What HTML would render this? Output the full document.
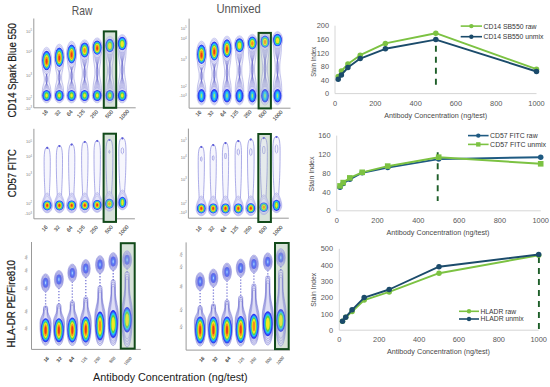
<!DOCTYPE html>
<html><head><meta charset="utf-8"><style>
html,body{margin:0;padding:0;background:#fff;}
body{width:550px;height:387px;overflow:hidden;font-family:"Liberation Sans", sans-serif;}
svg{position:absolute;left:0;top:0;}
</style></head><body>
<svg width="550" height="387" viewBox="0 0 550 387">

<defs>
<filter id="bl" x="-30%" y="-30%" width="160%" height="160%"><feGaussianBlur stdDeviation="0.45"/></filter>
<filter id="bl2" x="-30%" y="-30%" width="160%" height="160%"><feGaussianBlur stdDeviation="0.3"/></filter>
</defs>

<text x="71.8" y="14.7" font-size="12.2" fill="#555" textLength="20.7" lengthAdjust="spacingAndGlyphs" font-family='"Liberation Sans", sans-serif'>Raw</text><text x="216.5" y="13.1" font-size="12.2" fill="#555" textLength="44.3" lengthAdjust="spacingAndGlyphs" font-family='"Liberation Sans", sans-serif'>Unmixed</text><text x="16.4" y="117.6" font-size="10.6" fill="#1a1a1a" stroke="#1a1a1a" stroke-width="0.22" textLength="94.5" lengthAdjust="spacingAndGlyphs" transform="rotate(-90 16.4 117.6)" font-family='"Liberation Sans", sans-serif'>CD14 Spark Blue 550</text><text x="16.4" y="197.2" font-size="10.6" fill="#1a1a1a" stroke="#1a1a1a" stroke-width="0.22" textLength="48" lengthAdjust="spacingAndGlyphs" transform="rotate(-90 16.4 197.2)" font-family='"Liberation Sans", sans-serif'>CD57 FITC</text><text x="15.0" y="347.5" font-size="10.6" fill="#1a1a1a" stroke="#1a1a1a" stroke-width="0.22" textLength="87.5" lengthAdjust="spacingAndGlyphs" transform="rotate(-90 15.0 347.5)" font-family='"Liberation Sans", sans-serif'>HLA-DR PE/Fire810</text><text x="93.1" y="381.4" font-size="10.5" fill="#1a1a1a" textLength="154.6" lengthAdjust="spacingAndGlyphs" font-family='"Liberation Sans", sans-serif'>Antibody Concentration (ng/test)</text><path d="M33.8,18.5 L33.8,107.8 L135.7,107.8" fill="none" stroke="#999999" stroke-width="1.0"/><rect x="103.7" y="31.3" width="12.6" height="76.6" fill="#e0e9e2"/><g filter="url(#bl)"><path d="M42.6,65.9 C42.6,73.9 44.3,73.9 44.3,79.2 C44.3,84.5 42.3,84.5 42.3,92.5 L50.9,92.5 C50.9,84.5 48.9,84.5 48.9,79.2 C48.9,73.9 50.6,73.9 50.6,65.9 Z" fill="#eeeefa"/><path d="M42.6,65.9 C42.6,73.9 44.3,73.9 44.3,79.2 C44.3,84.5 42.3,84.5 42.3,92.5" fill="none" stroke="#5c5cca" stroke-width="0.45" opacity="0.75"/><path d="M50.6,65.9 C50.6,73.9 48.9,73.9 48.9,79.2 C48.9,84.5 50.9,84.5 50.9,92.5" fill="none" stroke="#5c5cca" stroke-width="0.45" opacity="0.75"/><path d="M43.8,65.9 C43.8,73.9 47.6,73.9 47.6,79.2 C47.6,84.5 43.6,84.5 43.6,92.5" fill="none" stroke="#5c5cca" stroke-width="0.45" opacity="0.75"/><path d="M49.4,65.9 C49.4,73.9 45.6,73.9 45.6,79.2 C45.6,84.5 49.6,84.5 49.6,92.5" fill="none" stroke="#5c5cca" stroke-width="0.45" opacity="0.75"/><path d="M44.9,65.9 C44.9,73.9 47.2,73.9 47.2,79.2 C47.2,84.5 44.8,84.5 44.8,92.5" fill="none" stroke="#5c5cca" stroke-width="0.45" opacity="0.75"/><path d="M48.3,65.9 C48.3,73.9 46.0,73.9 46.0,79.2 C46.0,84.5 48.4,84.5 48.4,92.5" fill="none" stroke="#5c5cca" stroke-width="0.45" opacity="0.75"/><path d="M46.0,65.9 C46.0,73.9 46.8,73.9 46.8,79.2 C46.8,84.5 46.0,84.5 46.0,92.5" fill="none" stroke="#5c5cca" stroke-width="0.45" opacity="0.75"/><path d="M47.2,65.9 C47.2,73.9 46.4,73.9 46.4,79.2 C46.4,84.5 47.2,84.5 47.2,92.5" fill="none" stroke="#5c5cca" stroke-width="0.45" opacity="0.75"/><ellipse cx="46.60" cy="60.50" rx="5.11" ry="13.33" fill="#e6e6f8"/><ellipse cx="46.60" cy="60.50" rx="4.76" ry="11.56" fill="none" stroke="#6e6ed8" stroke-width="0.4" opacity="0.6"/><ellipse cx="46.60" cy="60.50" rx="5.11" ry="13.33" fill="none" stroke="#6e6ed8" stroke-width="0.4" opacity="0.6"/><ellipse cx="46.60" cy="60.50" rx="4.40" ry="9.80" fill="#2c36f2"/><ellipse cx="46.60" cy="60.62" rx="3.83" ry="8.82" fill="#2a7af8"/><ellipse cx="46.60" cy="60.74" rx="3.21" ry="7.84" fill="#22cdf0"/><ellipse cx="46.60" cy="60.85" rx="2.68" ry="6.86" fill="#5ad04a"/><ellipse cx="46.60" cy="60.97" rx="2.16" ry="5.88" fill="#f0ea22"/><ellipse cx="46.60" cy="61.15" rx="1.58" ry="4.41" fill="#f8901a"/><ellipse cx="46.60" cy="61.37" rx="0.88" ry="2.55" fill="#ee3a18"/><ellipse cx="46.60" cy="95.50" rx="5.00" ry="7.48" fill="#e6e6f8"/><ellipse cx="46.60" cy="95.50" rx="4.65" ry="6.49" fill="none" stroke="#6e6ed8" stroke-width="0.4" opacity="0.6"/><ellipse cx="46.60" cy="95.50" rx="5.00" ry="7.48" fill="none" stroke="#6e6ed8" stroke-width="0.4" opacity="0.6"/><ellipse cx="46.60" cy="95.50" rx="4.30" ry="5.50" fill="#2c36f2"/><ellipse cx="46.60" cy="95.50" rx="3.44" ry="4.67" fill="#2a7af8"/><ellipse cx="46.60" cy="95.50" rx="2.58" ry="3.96" fill="#22cdf0"/><ellipse cx="46.60" cy="95.50" rx="2.02" ry="3.19" fill="#5ad04a"/><ellipse cx="46.60" cy="95.50" rx="1.25" ry="2.09" fill="#f0ea22"/><path d="M55.3,62.5 C55.3,71.5 57.0,71.5 57.0,77.5 C57.0,83.5 55.0,83.5 55.0,92.5 L63.6,92.5 C63.6,83.5 61.6,83.5 61.6,77.5 C61.6,71.5 63.3,71.5 63.3,62.5 Z" fill="#eeeefa"/><path d="M55.3,62.5 C55.3,71.5 57.0,71.5 57.0,77.5 C57.0,83.5 55.0,83.5 55.0,92.5" fill="none" stroke="#5c5cca" stroke-width="0.45" opacity="0.75"/><path d="M63.3,62.5 C63.3,71.5 61.6,71.5 61.6,77.5 C61.6,83.5 63.6,83.5 63.6,92.5" fill="none" stroke="#5c5cca" stroke-width="0.45" opacity="0.75"/><path d="M56.5,62.5 C56.5,71.5 60.3,71.5 60.3,77.5 C60.3,83.5 56.3,83.5 56.3,92.5" fill="none" stroke="#5c5cca" stroke-width="0.45" opacity="0.75"/><path d="M62.1,62.5 C62.1,71.5 58.3,71.5 58.3,77.5 C58.3,83.5 62.3,83.5 62.3,92.5" fill="none" stroke="#5c5cca" stroke-width="0.45" opacity="0.75"/><path d="M57.6,62.5 C57.6,71.5 59.9,71.5 59.9,77.5 C59.9,83.5 57.5,83.5 57.5,92.5" fill="none" stroke="#5c5cca" stroke-width="0.45" opacity="0.75"/><path d="M61.0,62.5 C61.0,71.5 58.7,71.5 58.7,77.5 C58.7,83.5 61.1,83.5 61.1,92.5" fill="none" stroke="#5c5cca" stroke-width="0.45" opacity="0.75"/><path d="M58.7,62.5 C58.7,71.5 59.5,71.5 59.5,77.5 C59.5,83.5 58.7,83.5 58.7,92.5" fill="none" stroke="#5c5cca" stroke-width="0.45" opacity="0.75"/><path d="M59.9,62.5 C59.9,71.5 59.1,71.5 59.1,77.5 C59.1,83.5 59.9,83.5 59.9,92.5" fill="none" stroke="#5c5cca" stroke-width="0.45" opacity="0.75"/><ellipse cx="59.30" cy="57.20" rx="5.11" ry="13.19" fill="#e6e6f8"/><ellipse cx="59.30" cy="57.20" rx="4.76" ry="11.45" fill="none" stroke="#6e6ed8" stroke-width="0.4" opacity="0.6"/><ellipse cx="59.30" cy="57.20" rx="5.11" ry="13.19" fill="none" stroke="#6e6ed8" stroke-width="0.4" opacity="0.6"/><ellipse cx="59.30" cy="57.20" rx="4.40" ry="9.70" fill="#2c36f2"/><ellipse cx="59.30" cy="57.32" rx="3.83" ry="8.73" fill="#2a7af8"/><ellipse cx="59.30" cy="57.43" rx="3.21" ry="7.76" fill="#22cdf0"/><ellipse cx="59.30" cy="57.55" rx="2.68" ry="6.79" fill="#5ad04a"/><ellipse cx="59.30" cy="57.67" rx="2.16" ry="5.82" fill="#f0ea22"/><ellipse cx="59.30" cy="57.84" rx="1.58" ry="4.37" fill="#f8901a"/><ellipse cx="59.30" cy="58.06" rx="0.88" ry="2.52" fill="#ee3a18"/><ellipse cx="59.30" cy="95.50" rx="5.00" ry="7.48" fill="#e6e6f8"/><ellipse cx="59.30" cy="95.50" rx="4.65" ry="6.49" fill="none" stroke="#6e6ed8" stroke-width="0.4" opacity="0.6"/><ellipse cx="59.30" cy="95.50" rx="5.00" ry="7.48" fill="none" stroke="#6e6ed8" stroke-width="0.4" opacity="0.6"/><ellipse cx="59.30" cy="95.50" rx="4.30" ry="5.50" fill="#2c36f2"/><ellipse cx="59.30" cy="95.50" rx="3.44" ry="4.67" fill="#2a7af8"/><ellipse cx="59.30" cy="95.50" rx="2.58" ry="3.96" fill="#22cdf0"/><ellipse cx="59.30" cy="95.50" rx="2.02" ry="3.19" fill="#5ad04a"/><ellipse cx="59.30" cy="95.50" rx="1.25" ry="2.09" fill="#f0ea22"/><path d="M67.6,59.2 C67.6,69.2 69.3,69.2 69.3,75.8 C69.3,82.5 67.3,82.5 67.3,92.5 L75.9,92.5 C75.9,82.5 73.9,82.5 73.9,75.8 C73.9,69.2 75.6,69.2 75.6,59.2 Z" fill="#eeeefa"/><path d="M67.6,59.2 C67.6,69.2 69.3,69.2 69.3,75.8 C69.3,82.5 67.3,82.5 67.3,92.5" fill="none" stroke="#5c5cca" stroke-width="0.45" opacity="0.75"/><path d="M75.6,59.2 C75.6,69.2 73.9,69.2 73.9,75.8 C73.9,82.5 75.9,82.5 75.9,92.5" fill="none" stroke="#5c5cca" stroke-width="0.45" opacity="0.75"/><path d="M68.8,59.2 C68.8,69.2 72.6,69.2 72.6,75.8 C72.6,82.5 68.6,82.5 68.6,92.5" fill="none" stroke="#5c5cca" stroke-width="0.45" opacity="0.75"/><path d="M74.4,59.2 C74.4,69.2 70.6,69.2 70.6,75.8 C70.6,82.5 74.6,82.5 74.6,92.5" fill="none" stroke="#5c5cca" stroke-width="0.45" opacity="0.75"/><path d="M69.9,59.2 C69.9,69.2 72.2,69.2 72.2,75.8 C72.2,82.5 69.8,82.5 69.8,92.5" fill="none" stroke="#5c5cca" stroke-width="0.45" opacity="0.75"/><path d="M73.3,59.2 C73.3,69.2 71.0,69.2 71.0,75.8 C71.0,82.5 73.4,82.5 73.4,92.5" fill="none" stroke="#5c5cca" stroke-width="0.45" opacity="0.75"/><path d="M71.0,59.2 C71.0,69.2 71.8,69.2 71.8,75.8 C71.8,82.5 71.0,82.5 71.0,92.5" fill="none" stroke="#5c5cca" stroke-width="0.45" opacity="0.75"/><path d="M72.2,59.2 C72.2,69.2 71.4,69.2 71.4,75.8 C71.4,82.5 72.2,82.5 72.2,92.5" fill="none" stroke="#5c5cca" stroke-width="0.45" opacity="0.75"/><ellipse cx="71.60" cy="54.00" rx="5.11" ry="12.92" fill="#e6e6f8"/><ellipse cx="71.60" cy="54.00" rx="4.76" ry="11.21" fill="none" stroke="#6e6ed8" stroke-width="0.4" opacity="0.6"/><ellipse cx="71.60" cy="54.00" rx="5.11" ry="12.92" fill="none" stroke="#6e6ed8" stroke-width="0.4" opacity="0.6"/><ellipse cx="71.60" cy="54.00" rx="4.40" ry="9.50" fill="#2c36f2"/><ellipse cx="71.60" cy="54.11" rx="3.83" ry="8.55" fill="#2a7af8"/><ellipse cx="71.60" cy="54.23" rx="3.21" ry="7.60" fill="#22cdf0"/><ellipse cx="71.60" cy="54.34" rx="2.68" ry="6.65" fill="#5ad04a"/><ellipse cx="71.60" cy="54.46" rx="2.16" ry="5.70" fill="#f0ea22"/><ellipse cx="71.60" cy="54.63" rx="1.58" ry="4.28" fill="#f8901a"/><ellipse cx="71.60" cy="54.84" rx="0.88" ry="2.47" fill="#ee3a18"/><ellipse cx="71.60" cy="95.50" rx="5.00" ry="7.48" fill="#e6e6f8"/><ellipse cx="71.60" cy="95.50" rx="4.65" ry="6.49" fill="none" stroke="#6e6ed8" stroke-width="0.4" opacity="0.6"/><ellipse cx="71.60" cy="95.50" rx="5.00" ry="7.48" fill="none" stroke="#6e6ed8" stroke-width="0.4" opacity="0.6"/><ellipse cx="71.60" cy="95.50" rx="4.30" ry="5.50" fill="#2c36f2"/><ellipse cx="71.60" cy="95.50" rx="3.44" ry="4.67" fill="#2a7af8"/><ellipse cx="71.60" cy="95.50" rx="2.58" ry="3.96" fill="#22cdf0"/><ellipse cx="71.60" cy="95.50" rx="2.02" ry="3.19" fill="#5ad04a"/><ellipse cx="71.60" cy="95.50" rx="1.25" ry="2.09" fill="#f0ea22"/><path d="M80.6,54.0 C80.6,65.6 82.3,65.6 82.3,73.2 C82.3,80.9 80.3,80.9 80.3,92.5 L88.9,92.5 C88.9,80.9 86.9,80.9 86.9,73.2 C86.9,65.6 88.6,65.6 88.6,54.0 Z" fill="#eeeefa"/><path d="M80.6,54.0 C80.6,65.6 82.3,65.6 82.3,73.2 C82.3,80.9 80.3,80.9 80.3,92.5" fill="none" stroke="#5c5cca" stroke-width="0.45" opacity="0.75"/><path d="M88.6,54.0 C88.6,65.6 86.9,65.6 86.9,73.2 C86.9,80.9 88.9,80.9 88.9,92.5" fill="none" stroke="#5c5cca" stroke-width="0.45" opacity="0.75"/><path d="M81.8,54.0 C81.8,65.6 85.6,65.6 85.6,73.2 C85.6,80.9 81.6,80.9 81.6,92.5" fill="none" stroke="#5c5cca" stroke-width="0.45" opacity="0.75"/><path d="M87.4,54.0 C87.4,65.6 83.6,65.6 83.6,73.2 C83.6,80.9 87.6,80.9 87.6,92.5" fill="none" stroke="#5c5cca" stroke-width="0.45" opacity="0.75"/><path d="M82.9,54.0 C82.9,65.6 85.2,65.6 85.2,73.2 C85.2,80.9 82.8,80.9 82.8,92.5" fill="none" stroke="#5c5cca" stroke-width="0.45" opacity="0.75"/><path d="M86.3,54.0 C86.3,65.6 84.0,65.6 84.0,73.2 C84.0,80.9 86.4,80.9 86.4,92.5" fill="none" stroke="#5c5cca" stroke-width="0.45" opacity="0.75"/><path d="M84.0,54.0 C84.0,65.6 84.8,65.6 84.8,73.2 C84.8,80.9 84.0,80.9 84.0,92.5" fill="none" stroke="#5c5cca" stroke-width="0.45" opacity="0.75"/><path d="M85.2,54.0 C85.2,65.6 84.4,65.6 84.4,73.2 C84.4,80.9 85.2,80.9 85.2,92.5" fill="none" stroke="#5c5cca" stroke-width="0.45" opacity="0.75"/><ellipse cx="84.60" cy="49.90" rx="5.11" ry="10.20" fill="#e6e6f8"/><ellipse cx="84.60" cy="49.90" rx="4.76" ry="8.85" fill="none" stroke="#6e6ed8" stroke-width="0.4" opacity="0.6"/><ellipse cx="84.60" cy="49.90" rx="5.11" ry="10.20" fill="none" stroke="#6e6ed8" stroke-width="0.4" opacity="0.6"/><ellipse cx="84.60" cy="49.90" rx="4.40" ry="7.50" fill="#2c36f2"/><ellipse cx="84.60" cy="50.00" rx="3.78" ry="6.67" fill="#2a7af8"/><ellipse cx="84.60" cy="50.10" rx="3.12" ry="5.85" fill="#22cdf0"/><ellipse cx="84.60" cy="50.21" rx="2.55" ry="4.95" fill="#5ad04a"/><ellipse cx="84.60" cy="50.32" rx="1.98" ry="3.98" fill="#f0ea22"/><ellipse cx="84.60" cy="50.50" rx="1.28" ry="2.48" fill="#f8901a"/><ellipse cx="84.60" cy="95.50" rx="5.00" ry="7.48" fill="#e6e6f8"/><ellipse cx="84.60" cy="95.50" rx="4.65" ry="6.49" fill="none" stroke="#6e6ed8" stroke-width="0.4" opacity="0.6"/><ellipse cx="84.60" cy="95.50" rx="5.00" ry="7.48" fill="none" stroke="#6e6ed8" stroke-width="0.4" opacity="0.6"/><ellipse cx="84.60" cy="95.50" rx="4.30" ry="5.50" fill="#2c36f2"/><ellipse cx="84.60" cy="95.50" rx="3.44" ry="4.67" fill="#2a7af8"/><ellipse cx="84.60" cy="95.50" rx="2.58" ry="3.96" fill="#22cdf0"/><ellipse cx="84.60" cy="95.50" rx="2.02" ry="3.19" fill="#5ad04a"/><ellipse cx="84.60" cy="95.50" rx="1.25" ry="2.09" fill="#f0ea22"/><path d="M93.2,51.6 C93.2,63.8 94.9,63.8 94.9,72.0 C94.9,80.2 92.9,80.2 92.9,92.5 L101.5,92.5 C101.5,80.2 99.5,80.2 99.5,72.0 C99.5,63.8 101.2,63.8 101.2,51.6 Z" fill="#eeeefa"/><path d="M93.2,51.6 C93.2,63.8 94.9,63.8 94.9,72.0 C94.9,80.2 92.9,80.2 92.9,92.5" fill="none" stroke="#5c5cca" stroke-width="0.45" opacity="0.75"/><path d="M101.2,51.6 C101.2,63.8 99.5,63.8 99.5,72.0 C99.5,80.2 101.5,80.2 101.5,92.5" fill="none" stroke="#5c5cca" stroke-width="0.45" opacity="0.75"/><path d="M94.4,51.6 C94.4,63.8 98.2,63.8 98.2,72.0 C98.2,80.2 94.2,80.2 94.2,92.5" fill="none" stroke="#5c5cca" stroke-width="0.45" opacity="0.75"/><path d="M100.0,51.6 C100.0,63.8 96.2,63.8 96.2,72.0 C96.2,80.2 100.2,80.2 100.2,92.5" fill="none" stroke="#5c5cca" stroke-width="0.45" opacity="0.75"/><path d="M95.5,51.6 C95.5,63.8 97.8,63.8 97.8,72.0 C97.8,80.2 95.4,80.2 95.4,92.5" fill="none" stroke="#5c5cca" stroke-width="0.45" opacity="0.75"/><path d="M98.9,51.6 C98.9,63.8 96.6,63.8 96.6,72.0 C96.6,80.2 99.0,80.2 99.0,92.5" fill="none" stroke="#5c5cca" stroke-width="0.45" opacity="0.75"/><path d="M96.6,51.6 C96.6,63.8 97.4,63.8 97.4,72.0 C97.4,80.2 96.6,80.2 96.6,92.5" fill="none" stroke="#5c5cca" stroke-width="0.45" opacity="0.75"/><path d="M97.8,51.6 C97.8,63.8 97.0,63.8 97.0,72.0 C97.0,80.2 97.8,80.2 97.8,92.5" fill="none" stroke="#5c5cca" stroke-width="0.45" opacity="0.75"/><ellipse cx="97.20" cy="47.60" rx="5.11" ry="9.79" fill="#e6e6f8"/><ellipse cx="97.20" cy="47.60" rx="4.76" ry="8.50" fill="none" stroke="#6e6ed8" stroke-width="0.4" opacity="0.6"/><ellipse cx="97.20" cy="47.60" rx="5.11" ry="9.79" fill="none" stroke="#6e6ed8" stroke-width="0.4" opacity="0.6"/><ellipse cx="97.20" cy="47.60" rx="4.40" ry="7.20" fill="#2c36f2"/><ellipse cx="97.20" cy="47.69" rx="3.83" ry="6.48" fill="#2a7af8"/><ellipse cx="97.20" cy="47.77" rx="3.21" ry="5.76" fill="#22cdf0"/><ellipse cx="97.20" cy="47.86" rx="2.68" ry="5.04" fill="#5ad04a"/><ellipse cx="97.20" cy="47.95" rx="2.16" ry="4.32" fill="#f0ea22"/><ellipse cx="97.20" cy="48.08" rx="1.58" ry="3.24" fill="#f8901a"/><ellipse cx="97.20" cy="48.24" rx="0.88" ry="1.87" fill="#ee3a18"/><ellipse cx="97.20" cy="95.50" rx="5.00" ry="7.48" fill="#e6e6f8"/><ellipse cx="97.20" cy="95.50" rx="4.65" ry="6.49" fill="none" stroke="#6e6ed8" stroke-width="0.4" opacity="0.6"/><ellipse cx="97.20" cy="95.50" rx="5.00" ry="7.48" fill="none" stroke="#6e6ed8" stroke-width="0.4" opacity="0.6"/><ellipse cx="97.20" cy="95.50" rx="4.30" ry="5.50" fill="#2c36f2"/><ellipse cx="97.20" cy="95.50" rx="3.44" ry="4.67" fill="#2a7af8"/><ellipse cx="97.20" cy="95.50" rx="2.58" ry="3.96" fill="#22cdf0"/><ellipse cx="97.20" cy="95.50" rx="2.02" ry="3.19" fill="#5ad04a"/><ellipse cx="97.20" cy="95.50" rx="1.25" ry="2.09" fill="#f0ea22"/><path d="M105.8,49.2 C105.8,62.2 107.5,62.2 107.5,70.8 C107.5,79.5 105.5,79.5 105.5,92.5 L114.1,92.5 C114.1,79.5 112.1,79.5 112.1,70.8 C112.1,62.2 113.8,62.2 113.8,49.2 Z" fill="#eeeefa"/><path d="M105.8,49.2 C105.8,62.2 107.5,62.2 107.5,70.8 C107.5,79.5 105.5,79.5 105.5,92.5" fill="none" stroke="#5c5cca" stroke-width="0.45" opacity="0.75"/><path d="M113.8,49.2 C113.8,62.2 112.1,62.2 112.1,70.8 C112.1,79.5 114.1,79.5 114.1,92.5" fill="none" stroke="#5c5cca" stroke-width="0.45" opacity="0.75"/><path d="M107.0,49.2 C107.0,62.2 110.8,62.2 110.8,70.8 C110.8,79.5 106.8,79.5 106.8,92.5" fill="none" stroke="#5c5cca" stroke-width="0.45" opacity="0.75"/><path d="M112.6,49.2 C112.6,62.2 108.8,62.2 108.8,70.8 C108.8,79.5 112.8,79.5 112.8,92.5" fill="none" stroke="#5c5cca" stroke-width="0.45" opacity="0.75"/><path d="M108.1,49.2 C108.1,62.2 110.4,62.2 110.4,70.8 C110.4,79.5 108.0,79.5 108.0,92.5" fill="none" stroke="#5c5cca" stroke-width="0.45" opacity="0.75"/><path d="M111.5,49.2 C111.5,62.2 109.2,62.2 109.2,70.8 C109.2,79.5 111.6,79.5 111.6,92.5" fill="none" stroke="#5c5cca" stroke-width="0.45" opacity="0.75"/><path d="M109.2,49.2 C109.2,62.2 110.0,62.2 110.0,70.8 C110.0,79.5 109.2,79.5 109.2,92.5" fill="none" stroke="#5c5cca" stroke-width="0.45" opacity="0.75"/><path d="M110.4,49.2 C110.4,62.2 109.6,62.2 109.6,70.8 C109.6,79.5 110.4,79.5 110.4,92.5" fill="none" stroke="#5c5cca" stroke-width="0.45" opacity="0.75"/><ellipse cx="109.80" cy="45.50" rx="5.11" ry="9.11" fill="#e6e6f8"/><ellipse cx="109.80" cy="45.50" rx="4.76" ry="7.91" fill="none" stroke="#6e6ed8" stroke-width="0.4" opacity="0.6"/><ellipse cx="109.80" cy="45.50" rx="5.11" ry="9.11" fill="none" stroke="#6e6ed8" stroke-width="0.4" opacity="0.6"/><ellipse cx="109.80" cy="45.50" rx="4.40" ry="6.70" fill="#2c36f2"/><ellipse cx="109.80" cy="45.60" rx="3.70" ry="5.90" fill="#2a7af8"/><ellipse cx="109.80" cy="45.69" rx="2.99" ry="5.09" fill="#22cdf0"/><ellipse cx="109.80" cy="45.81" rx="2.38" ry="4.15" fill="#5ad04a"/><ellipse cx="109.80" cy="45.95" rx="1.67" ry="2.95" fill="#f0ea22"/><ellipse cx="109.80" cy="95.50" rx="5.00" ry="7.48" fill="#e6e6f8"/><ellipse cx="109.80" cy="95.50" rx="4.65" ry="6.49" fill="none" stroke="#6e6ed8" stroke-width="0.4" opacity="0.6"/><ellipse cx="109.80" cy="95.50" rx="5.00" ry="7.48" fill="none" stroke="#6e6ed8" stroke-width="0.4" opacity="0.6"/><ellipse cx="109.80" cy="95.50" rx="4.30" ry="5.50" fill="#2c36f2"/><ellipse cx="109.80" cy="95.50" rx="3.44" ry="4.67" fill="#2a7af8"/><ellipse cx="109.80" cy="95.50" rx="2.58" ry="3.96" fill="#22cdf0"/><ellipse cx="109.80" cy="95.50" rx="2.02" ry="3.19" fill="#5ad04a"/><ellipse cx="109.80" cy="95.50" rx="1.25" ry="2.09" fill="#f0ea22"/><path d="M118.2,47.2 C118.2,60.8 119.9,60.8 119.9,69.8 C119.9,78.9 117.9,78.9 117.9,92.5 L126.5,92.5 C126.5,78.9 124.5,78.9 124.5,69.8 C124.5,60.8 126.2,60.8 126.2,47.2 Z" fill="#eeeefa"/><path d="M118.2,47.2 C118.2,60.8 119.9,60.8 119.9,69.8 C119.9,78.9 117.9,78.9 117.9,92.5" fill="none" stroke="#5c5cca" stroke-width="0.45" opacity="0.75"/><path d="M126.2,47.2 C126.2,60.8 124.5,60.8 124.5,69.8 C124.5,78.9 126.5,78.9 126.5,92.5" fill="none" stroke="#5c5cca" stroke-width="0.45" opacity="0.75"/><path d="M119.4,47.2 C119.4,60.8 123.2,60.8 123.2,69.8 C123.2,78.9 119.2,78.9 119.2,92.5" fill="none" stroke="#5c5cca" stroke-width="0.45" opacity="0.75"/><path d="M125.0,47.2 C125.0,60.8 121.2,60.8 121.2,69.8 C121.2,78.9 125.2,78.9 125.2,92.5" fill="none" stroke="#5c5cca" stroke-width="0.45" opacity="0.75"/><path d="M120.5,47.2 C120.5,60.8 122.8,60.8 122.8,69.8 C122.8,78.9 120.4,78.9 120.4,92.5" fill="none" stroke="#5c5cca" stroke-width="0.45" opacity="0.75"/><path d="M123.9,47.2 C123.9,60.8 121.6,60.8 121.6,69.8 C121.6,78.9 124.0,78.9 124.0,92.5" fill="none" stroke="#5c5cca" stroke-width="0.45" opacity="0.75"/><path d="M121.6,47.2 C121.6,60.8 122.4,60.8 122.4,69.8 C122.4,78.9 121.6,78.9 121.6,92.5" fill="none" stroke="#5c5cca" stroke-width="0.45" opacity="0.75"/><path d="M122.8,47.2 C122.8,60.8 122.0,60.8 122.0,69.8 C122.0,78.9 122.8,78.9 122.8,92.5" fill="none" stroke="#5c5cca" stroke-width="0.45" opacity="0.75"/><ellipse cx="122.20" cy="43.50" rx="5.11" ry="9.11" fill="#e6e6f8"/><ellipse cx="122.20" cy="43.50" rx="4.76" ry="7.91" fill="none" stroke="#6e6ed8" stroke-width="0.4" opacity="0.6"/><ellipse cx="122.20" cy="43.50" rx="5.11" ry="9.11" fill="none" stroke="#6e6ed8" stroke-width="0.4" opacity="0.6"/><ellipse cx="122.20" cy="43.50" rx="4.40" ry="6.70" fill="#2c36f2"/><ellipse cx="122.20" cy="43.60" rx="3.70" ry="5.90" fill="#2a7af8"/><ellipse cx="122.20" cy="43.69" rx="2.99" ry="5.09" fill="#22cdf0"/><ellipse cx="122.20" cy="43.81" rx="2.38" ry="4.15" fill="#5ad04a"/><ellipse cx="122.20" cy="43.95" rx="1.67" ry="2.95" fill="#f0ea22"/><ellipse cx="122.20" cy="95.50" rx="5.00" ry="7.48" fill="#e6e6f8"/><ellipse cx="122.20" cy="95.50" rx="4.65" ry="6.49" fill="none" stroke="#6e6ed8" stroke-width="0.4" opacity="0.6"/><ellipse cx="122.20" cy="95.50" rx="5.00" ry="7.48" fill="none" stroke="#6e6ed8" stroke-width="0.4" opacity="0.6"/><ellipse cx="122.20" cy="95.50" rx="4.30" ry="5.50" fill="#2c36f2"/><ellipse cx="122.20" cy="95.50" rx="3.44" ry="4.67" fill="#2a7af8"/><ellipse cx="122.20" cy="95.50" rx="2.58" ry="3.96" fill="#22cdf0"/><ellipse cx="122.20" cy="95.50" rx="2.02" ry="3.19" fill="#5ad04a"/><ellipse cx="122.20" cy="95.50" rx="1.25" ry="2.09" fill="#f0ea22"/></g><rect x="103.8" y="31.4" width="12.4" height="76.4" fill="#b8c8bc" fill-opacity="0.22" stroke="#124a1a" stroke-width="2"/><path d="M189.1,18.6 L189.1,108.2 L290.5,108.2" fill="none" stroke="#999999" stroke-width="1.0"/><rect x="258.5" y="32.8" width="12.5" height="75.7" fill="#e0e9e2"/><g filter="url(#bl)"><path d="M197.5,59.7 C197.5,69.4 199.2,69.4 199.2,75.9 C199.2,82.3 197.2,82.3 197.2,92.1 L205.8,92.1 C205.8,82.3 203.8,82.3 203.8,75.9 C203.8,69.4 205.5,69.4 205.5,59.7 Z" fill="#eeeefa"/><path d="M197.5,59.7 C197.5,69.4 199.2,69.4 199.2,75.9 C199.2,82.3 197.2,82.3 197.2,92.1" fill="none" stroke="#5c5cca" stroke-width="0.45" opacity="0.75"/><path d="M205.5,59.7 C205.5,69.4 203.8,69.4 203.8,75.9 C203.8,82.3 205.8,82.3 205.8,92.1" fill="none" stroke="#5c5cca" stroke-width="0.45" opacity="0.75"/><path d="M198.7,59.7 C198.7,69.4 202.5,69.4 202.5,75.9 C202.5,82.3 198.5,82.3 198.5,92.1" fill="none" stroke="#5c5cca" stroke-width="0.45" opacity="0.75"/><path d="M204.3,59.7 C204.3,69.4 200.5,69.4 200.5,75.9 C200.5,82.3 204.5,82.3 204.5,92.1" fill="none" stroke="#5c5cca" stroke-width="0.45" opacity="0.75"/><path d="M199.8,59.7 C199.8,69.4 202.1,69.4 202.1,75.9 C202.1,82.3 199.7,82.3 199.7,92.1" fill="none" stroke="#5c5cca" stroke-width="0.45" opacity="0.75"/><path d="M203.2,59.7 C203.2,69.4 200.9,69.4 200.9,75.9 C200.9,82.3 203.3,82.3 203.3,92.1" fill="none" stroke="#5c5cca" stroke-width="0.45" opacity="0.75"/><path d="M200.9,59.7 C200.9,69.4 201.7,69.4 201.7,75.9 C201.7,82.3 200.9,82.3 200.9,92.1" fill="none" stroke="#5c5cca" stroke-width="0.45" opacity="0.75"/><path d="M202.1,59.7 C202.1,69.4 201.3,69.4 201.3,75.9 C201.3,82.3 202.1,82.3 202.1,92.1" fill="none" stroke="#5c5cca" stroke-width="0.45" opacity="0.75"/><ellipse cx="201.50" cy="54.30" rx="5.11" ry="13.33" fill="#e6e6f8"/><ellipse cx="201.50" cy="54.30" rx="4.76" ry="11.56" fill="none" stroke="#6e6ed8" stroke-width="0.4" opacity="0.6"/><ellipse cx="201.50" cy="54.30" rx="5.11" ry="13.33" fill="none" stroke="#6e6ed8" stroke-width="0.4" opacity="0.6"/><ellipse cx="201.50" cy="54.30" rx="4.40" ry="9.80" fill="#2c36f2"/><ellipse cx="201.50" cy="54.42" rx="3.83" ry="8.82" fill="#2a7af8"/><ellipse cx="201.50" cy="54.54" rx="3.21" ry="7.84" fill="#22cdf0"/><ellipse cx="201.50" cy="54.65" rx="2.68" ry="6.86" fill="#5ad04a"/><ellipse cx="201.50" cy="54.77" rx="2.16" ry="5.88" fill="#f0ea22"/><ellipse cx="201.50" cy="54.95" rx="1.58" ry="4.41" fill="#f8901a"/><ellipse cx="201.50" cy="55.17" rx="0.88" ry="2.55" fill="#ee3a18"/><ellipse cx="201.50" cy="95.80" rx="4.53" ry="9.25" fill="#e6e6f8"/><ellipse cx="201.50" cy="95.80" rx="4.22" ry="8.02" fill="none" stroke="#6e6ed8" stroke-width="0.4" opacity="0.6"/><ellipse cx="201.50" cy="95.80" rx="4.53" ry="9.25" fill="none" stroke="#6e6ed8" stroke-width="0.4" opacity="0.6"/><ellipse cx="201.50" cy="95.80" rx="3.90" ry="6.80" fill="#2c36f2"/><ellipse cx="201.50" cy="95.80" rx="2.89" ry="5.58" fill="#2a7af8"/><ellipse cx="201.50" cy="95.80" rx="1.64" ry="4.35" fill="#22cdf0"/><ellipse cx="201.50" cy="95.80" rx="0.78" ry="2.18" fill="#a0e870"/><path d="M210.3,56.3 C210.3,67.0 212.0,67.0 212.0,74.2 C212.0,81.3 210.0,81.3 210.0,92.1 L218.6,92.1 C218.6,81.3 216.6,81.3 216.6,74.2 C216.6,67.0 218.3,67.0 218.3,56.3 Z" fill="#eeeefa"/><path d="M210.3,56.3 C210.3,67.0 212.0,67.0 212.0,74.2 C212.0,81.3 210.0,81.3 210.0,92.1" fill="none" stroke="#5c5cca" stroke-width="0.45" opacity="0.75"/><path d="M218.3,56.3 C218.3,67.0 216.6,67.0 216.6,74.2 C216.6,81.3 218.6,81.3 218.6,92.1" fill="none" stroke="#5c5cca" stroke-width="0.45" opacity="0.75"/><path d="M211.5,56.3 C211.5,67.0 215.3,67.0 215.3,74.2 C215.3,81.3 211.3,81.3 211.3,92.1" fill="none" stroke="#5c5cca" stroke-width="0.45" opacity="0.75"/><path d="M217.1,56.3 C217.1,67.0 213.3,67.0 213.3,74.2 C213.3,81.3 217.3,81.3 217.3,92.1" fill="none" stroke="#5c5cca" stroke-width="0.45" opacity="0.75"/><path d="M212.6,56.3 C212.6,67.0 214.9,67.0 214.9,74.2 C214.9,81.3 212.5,81.3 212.5,92.1" fill="none" stroke="#5c5cca" stroke-width="0.45" opacity="0.75"/><path d="M216.0,56.3 C216.0,67.0 213.7,67.0 213.7,74.2 C213.7,81.3 216.1,81.3 216.1,92.1" fill="none" stroke="#5c5cca" stroke-width="0.45" opacity="0.75"/><path d="M213.7,56.3 C213.7,67.0 214.5,67.0 214.5,74.2 C214.5,81.3 213.7,81.3 213.7,92.1" fill="none" stroke="#5c5cca" stroke-width="0.45" opacity="0.75"/><path d="M214.9,56.3 C214.9,67.0 214.1,67.0 214.1,74.2 C214.1,81.3 214.9,81.3 214.9,92.1" fill="none" stroke="#5c5cca" stroke-width="0.45" opacity="0.75"/><ellipse cx="214.30" cy="51.00" rx="5.11" ry="13.06" fill="#e6e6f8"/><ellipse cx="214.30" cy="51.00" rx="4.76" ry="11.33" fill="none" stroke="#6e6ed8" stroke-width="0.4" opacity="0.6"/><ellipse cx="214.30" cy="51.00" rx="5.11" ry="13.06" fill="none" stroke="#6e6ed8" stroke-width="0.4" opacity="0.6"/><ellipse cx="214.30" cy="51.00" rx="4.40" ry="9.60" fill="#2c36f2"/><ellipse cx="214.30" cy="51.12" rx="3.83" ry="8.64" fill="#2a7af8"/><ellipse cx="214.30" cy="51.23" rx="3.21" ry="7.68" fill="#22cdf0"/><ellipse cx="214.30" cy="51.35" rx="2.68" ry="6.72" fill="#5ad04a"/><ellipse cx="214.30" cy="51.46" rx="2.16" ry="5.76" fill="#f0ea22"/><ellipse cx="214.30" cy="51.63" rx="1.58" ry="4.32" fill="#f8901a"/><ellipse cx="214.30" cy="51.85" rx="0.88" ry="2.50" fill="#ee3a18"/><ellipse cx="214.30" cy="95.80" rx="4.53" ry="9.25" fill="#e6e6f8"/><ellipse cx="214.30" cy="95.80" rx="4.22" ry="8.02" fill="none" stroke="#6e6ed8" stroke-width="0.4" opacity="0.6"/><ellipse cx="214.30" cy="95.80" rx="4.53" ry="9.25" fill="none" stroke="#6e6ed8" stroke-width="0.4" opacity="0.6"/><ellipse cx="214.30" cy="95.80" rx="3.90" ry="6.80" fill="#2c36f2"/><ellipse cx="214.30" cy="95.80" rx="2.89" ry="5.58" fill="#2a7af8"/><ellipse cx="214.30" cy="95.80" rx="1.64" ry="4.35" fill="#22cdf0"/><ellipse cx="214.30" cy="95.80" rx="0.78" ry="2.18" fill="#a0e870"/><path d="M223.0,53.6 C223.0,65.1 224.7,65.1 224.7,72.8 C224.7,80.5 222.7,80.5 222.7,92.1 L231.3,92.1 C231.3,80.5 229.3,80.5 229.3,72.8 C229.3,65.1 231.0,65.1 231.0,53.6 Z" fill="#eeeefa"/><path d="M223.0,53.6 C223.0,65.1 224.7,65.1 224.7,72.8 C224.7,80.5 222.7,80.5 222.7,92.1" fill="none" stroke="#5c5cca" stroke-width="0.45" opacity="0.75"/><path d="M231.0,53.6 C231.0,65.1 229.3,65.1 229.3,72.8 C229.3,80.5 231.3,80.5 231.3,92.1" fill="none" stroke="#5c5cca" stroke-width="0.45" opacity="0.75"/><path d="M224.2,53.6 C224.2,65.1 228.0,65.1 228.0,72.8 C228.0,80.5 224.0,80.5 224.0,92.1" fill="none" stroke="#5c5cca" stroke-width="0.45" opacity="0.75"/><path d="M229.8,53.6 C229.8,65.1 226.0,65.1 226.0,72.8 C226.0,80.5 230.0,80.5 230.0,92.1" fill="none" stroke="#5c5cca" stroke-width="0.45" opacity="0.75"/><path d="M225.3,53.6 C225.3,65.1 227.6,65.1 227.6,72.8 C227.6,80.5 225.2,80.5 225.2,92.1" fill="none" stroke="#5c5cca" stroke-width="0.45" opacity="0.75"/><path d="M228.7,53.6 C228.7,65.1 226.4,65.1 226.4,72.8 C226.4,80.5 228.8,80.5 228.8,92.1" fill="none" stroke="#5c5cca" stroke-width="0.45" opacity="0.75"/><path d="M226.4,53.6 C226.4,65.1 227.2,65.1 227.2,72.8 C227.2,80.5 226.4,80.5 226.4,92.1" fill="none" stroke="#5c5cca" stroke-width="0.45" opacity="0.75"/><path d="M227.6,53.6 C227.6,65.1 226.8,65.1 226.8,72.8 C226.8,80.5 227.6,80.5 227.6,92.1" fill="none" stroke="#5c5cca" stroke-width="0.45" opacity="0.75"/><ellipse cx="227.00" cy="48.50" rx="5.11" ry="12.51" fill="#e6e6f8"/><ellipse cx="227.00" cy="48.50" rx="4.76" ry="10.86" fill="none" stroke="#6e6ed8" stroke-width="0.4" opacity="0.6"/><ellipse cx="227.00" cy="48.50" rx="5.11" ry="12.51" fill="none" stroke="#6e6ed8" stroke-width="0.4" opacity="0.6"/><ellipse cx="227.00" cy="48.50" rx="4.40" ry="9.20" fill="#2c36f2"/><ellipse cx="227.00" cy="48.61" rx="3.83" ry="8.28" fill="#2a7af8"/><ellipse cx="227.00" cy="48.72" rx="3.21" ry="7.36" fill="#22cdf0"/><ellipse cx="227.00" cy="48.83" rx="2.68" ry="6.44" fill="#5ad04a"/><ellipse cx="227.00" cy="48.94" rx="2.16" ry="5.52" fill="#f0ea22"/><ellipse cx="227.00" cy="49.11" rx="1.58" ry="4.14" fill="#f8901a"/><ellipse cx="227.00" cy="49.32" rx="0.88" ry="2.39" fill="#ee3a18"/><ellipse cx="227.00" cy="95.80" rx="4.53" ry="9.25" fill="#e6e6f8"/><ellipse cx="227.00" cy="95.80" rx="4.22" ry="8.02" fill="none" stroke="#6e6ed8" stroke-width="0.4" opacity="0.6"/><ellipse cx="227.00" cy="95.80" rx="4.53" ry="9.25" fill="none" stroke="#6e6ed8" stroke-width="0.4" opacity="0.6"/><ellipse cx="227.00" cy="95.80" rx="3.90" ry="6.80" fill="#2c36f2"/><ellipse cx="227.00" cy="95.80" rx="2.89" ry="5.58" fill="#2a7af8"/><ellipse cx="227.00" cy="95.80" rx="1.64" ry="4.35" fill="#22cdf0"/><ellipse cx="227.00" cy="95.80" rx="0.78" ry="2.18" fill="#a0e870"/><path d="M235.5,49.1 C235.5,62.0 237.2,62.0 237.2,70.6 C237.2,79.2 235.2,79.2 235.2,92.1 L243.8,92.1 C243.8,79.2 241.8,79.2 241.8,70.6 C241.8,62.0 243.5,62.0 243.5,49.1 Z" fill="#eeeefa"/><path d="M235.5,49.1 C235.5,62.0 237.2,62.0 237.2,70.6 C237.2,79.2 235.2,79.2 235.2,92.1" fill="none" stroke="#5c5cca" stroke-width="0.45" opacity="0.75"/><path d="M243.5,49.1 C243.5,62.0 241.8,62.0 241.8,70.6 C241.8,79.2 243.8,79.2 243.8,92.1" fill="none" stroke="#5c5cca" stroke-width="0.45" opacity="0.75"/><path d="M236.7,49.1 C236.7,62.0 240.5,62.0 240.5,70.6 C240.5,79.2 236.5,79.2 236.5,92.1" fill="none" stroke="#5c5cca" stroke-width="0.45" opacity="0.75"/><path d="M242.3,49.1 C242.3,62.0 238.5,62.0 238.5,70.6 C238.5,79.2 242.5,79.2 242.5,92.1" fill="none" stroke="#5c5cca" stroke-width="0.45" opacity="0.75"/><path d="M237.8,49.1 C237.8,62.0 240.1,62.0 240.1,70.6 C240.1,79.2 237.7,79.2 237.7,92.1" fill="none" stroke="#5c5cca" stroke-width="0.45" opacity="0.75"/><path d="M241.2,49.1 C241.2,62.0 238.9,62.0 238.9,70.6 C238.9,79.2 241.3,79.2 241.3,92.1" fill="none" stroke="#5c5cca" stroke-width="0.45" opacity="0.75"/><path d="M238.9,49.1 C238.9,62.0 239.7,62.0 239.7,70.6 C239.7,79.2 238.9,79.2 238.9,92.1" fill="none" stroke="#5c5cca" stroke-width="0.45" opacity="0.75"/><path d="M240.1,49.1 C240.1,62.0 239.3,62.0 239.3,70.6 C239.3,79.2 240.1,79.2 240.1,92.1" fill="none" stroke="#5c5cca" stroke-width="0.45" opacity="0.75"/><ellipse cx="239.50" cy="45.20" rx="5.11" ry="9.52" fill="#e6e6f8"/><ellipse cx="239.50" cy="45.20" rx="4.76" ry="8.26" fill="none" stroke="#6e6ed8" stroke-width="0.4" opacity="0.6"/><ellipse cx="239.50" cy="45.20" rx="5.11" ry="9.52" fill="none" stroke="#6e6ed8" stroke-width="0.4" opacity="0.6"/><ellipse cx="239.50" cy="45.20" rx="4.40" ry="7.00" fill="#2c36f2"/><ellipse cx="239.50" cy="45.30" rx="3.70" ry="6.16" fill="#2a7af8"/><ellipse cx="239.50" cy="45.40" rx="2.99" ry="5.32" fill="#22cdf0"/><ellipse cx="239.50" cy="45.52" rx="2.38" ry="4.34" fill="#5ad04a"/><ellipse cx="239.50" cy="45.67" rx="1.67" ry="3.08" fill="#f0ea22"/><ellipse cx="239.50" cy="95.80" rx="4.53" ry="9.25" fill="#e6e6f8"/><ellipse cx="239.50" cy="95.80" rx="4.22" ry="8.02" fill="none" stroke="#6e6ed8" stroke-width="0.4" opacity="0.6"/><ellipse cx="239.50" cy="95.80" rx="4.53" ry="9.25" fill="none" stroke="#6e6ed8" stroke-width="0.4" opacity="0.6"/><ellipse cx="239.50" cy="95.80" rx="3.90" ry="6.80" fill="#2c36f2"/><ellipse cx="239.50" cy="95.80" rx="2.89" ry="5.58" fill="#2a7af8"/><ellipse cx="239.50" cy="95.80" rx="1.64" ry="4.35" fill="#22cdf0"/><ellipse cx="239.50" cy="95.80" rx="0.78" ry="2.18" fill="#a0e870"/><path d="M248.3,46.6 C248.3,60.2 250.0,60.2 250.0,69.3 C250.0,78.4 248.0,78.4 248.0,92.1 L256.6,92.1 C256.6,78.4 254.6,78.4 254.6,69.3 C254.6,60.2 256.3,60.2 256.3,46.6 Z" fill="#eeeefa"/><path d="M248.3,46.6 C248.3,60.2 250.0,60.2 250.0,69.3 C250.0,78.4 248.0,78.4 248.0,92.1" fill="none" stroke="#5c5cca" stroke-width="0.45" opacity="0.75"/><path d="M256.3,46.6 C256.3,60.2 254.6,60.2 254.6,69.3 C254.6,78.4 256.6,78.4 256.6,92.1" fill="none" stroke="#5c5cca" stroke-width="0.45" opacity="0.75"/><path d="M249.5,46.6 C249.5,60.2 253.3,60.2 253.3,69.3 C253.3,78.4 249.3,78.4 249.3,92.1" fill="none" stroke="#5c5cca" stroke-width="0.45" opacity="0.75"/><path d="M255.1,46.6 C255.1,60.2 251.3,60.2 251.3,69.3 C251.3,78.4 255.3,78.4 255.3,92.1" fill="none" stroke="#5c5cca" stroke-width="0.45" opacity="0.75"/><path d="M250.6,46.6 C250.6,60.2 252.9,60.2 252.9,69.3 C252.9,78.4 250.5,78.4 250.5,92.1" fill="none" stroke="#5c5cca" stroke-width="0.45" opacity="0.75"/><path d="M254.0,46.6 C254.0,60.2 251.7,60.2 251.7,69.3 C251.7,78.4 254.1,78.4 254.1,92.1" fill="none" stroke="#5c5cca" stroke-width="0.45" opacity="0.75"/><path d="M251.7,46.6 C251.7,60.2 252.5,60.2 252.5,69.3 C252.5,78.4 251.7,78.4 251.7,92.1" fill="none" stroke="#5c5cca" stroke-width="0.45" opacity="0.75"/><path d="M252.9,46.6 C252.9,60.2 252.1,60.2 252.1,69.3 C252.1,78.4 252.9,78.4 252.9,92.1" fill="none" stroke="#5c5cca" stroke-width="0.45" opacity="0.75"/><ellipse cx="252.30" cy="43.00" rx="5.11" ry="8.84" fill="#e6e6f8"/><ellipse cx="252.30" cy="43.00" rx="4.76" ry="7.67" fill="none" stroke="#6e6ed8" stroke-width="0.4" opacity="0.6"/><ellipse cx="252.30" cy="43.00" rx="5.11" ry="8.84" fill="none" stroke="#6e6ed8" stroke-width="0.4" opacity="0.6"/><ellipse cx="252.30" cy="43.00" rx="4.40" ry="6.50" fill="#2c36f2"/><ellipse cx="252.30" cy="43.09" rx="3.78" ry="5.79" fill="#2a7af8"/><ellipse cx="252.30" cy="43.17" rx="3.12" ry="5.07" fill="#22cdf0"/><ellipse cx="252.30" cy="43.27" rx="2.55" ry="4.29" fill="#5ad04a"/><ellipse cx="252.30" cy="43.37" rx="1.98" ry="3.45" fill="#f0ea22"/><ellipse cx="252.30" cy="43.52" rx="1.28" ry="2.15" fill="#f8901a"/><ellipse cx="252.30" cy="95.80" rx="4.53" ry="9.25" fill="#e6e6f8"/><ellipse cx="252.30" cy="95.80" rx="4.22" ry="8.02" fill="none" stroke="#6e6ed8" stroke-width="0.4" opacity="0.6"/><ellipse cx="252.30" cy="95.80" rx="4.53" ry="9.25" fill="none" stroke="#6e6ed8" stroke-width="0.4" opacity="0.6"/><ellipse cx="252.30" cy="95.80" rx="3.90" ry="6.80" fill="#2c36f2"/><ellipse cx="252.30" cy="95.80" rx="2.89" ry="5.58" fill="#2a7af8"/><ellipse cx="252.30" cy="95.80" rx="1.64" ry="4.35" fill="#22cdf0"/><ellipse cx="252.30" cy="95.80" rx="0.78" ry="2.18" fill="#a0e870"/><path d="M261.0,45.0 C261.0,59.1 262.7,59.1 262.7,68.5 C262.7,77.9 260.7,77.9 260.7,92.1 L269.3,92.1 C269.3,77.9 267.3,77.9 267.3,68.5 C267.3,59.1 269.0,59.1 269.0,45.0 Z" fill="#eeeefa"/><path d="M261.0,45.0 C261.0,59.1 262.7,59.1 262.7,68.5 C262.7,77.9 260.7,77.9 260.7,92.1" fill="none" stroke="#5c5cca" stroke-width="0.45" opacity="0.75"/><path d="M269.0,45.0 C269.0,59.1 267.3,59.1 267.3,68.5 C267.3,77.9 269.3,77.9 269.3,92.1" fill="none" stroke="#5c5cca" stroke-width="0.45" opacity="0.75"/><path d="M262.2,45.0 C262.2,59.1 266.0,59.1 266.0,68.5 C266.0,77.9 262.0,77.9 262.0,92.1" fill="none" stroke="#5c5cca" stroke-width="0.45" opacity="0.75"/><path d="M267.8,45.0 C267.8,59.1 264.0,59.1 264.0,68.5 C264.0,77.9 268.0,77.9 268.0,92.1" fill="none" stroke="#5c5cca" stroke-width="0.45" opacity="0.75"/><path d="M263.3,45.0 C263.3,59.1 265.6,59.1 265.6,68.5 C265.6,77.9 263.2,77.9 263.2,92.1" fill="none" stroke="#5c5cca" stroke-width="0.45" opacity="0.75"/><path d="M266.7,45.0 C266.7,59.1 264.4,59.1 264.4,68.5 C264.4,77.9 266.8,77.9 266.8,92.1" fill="none" stroke="#5c5cca" stroke-width="0.45" opacity="0.75"/><path d="M264.4,45.0 C264.4,59.1 265.2,59.1 265.2,68.5 C265.2,77.9 264.4,77.9 264.4,92.1" fill="none" stroke="#5c5cca" stroke-width="0.45" opacity="0.75"/><path d="M265.6,45.0 C265.6,59.1 264.8,59.1 264.8,68.5 C264.8,77.9 265.6,77.9 265.6,92.1" fill="none" stroke="#5c5cca" stroke-width="0.45" opacity="0.75"/><ellipse cx="265.00" cy="41.60" rx="5.11" ry="8.43" fill="#e6e6f8"/><ellipse cx="265.00" cy="41.60" rx="4.76" ry="7.32" fill="none" stroke="#6e6ed8" stroke-width="0.4" opacity="0.6"/><ellipse cx="265.00" cy="41.60" rx="5.11" ry="8.43" fill="none" stroke="#6e6ed8" stroke-width="0.4" opacity="0.6"/><ellipse cx="265.00" cy="41.60" rx="4.40" ry="6.20" fill="#2c36f2"/><ellipse cx="265.00" cy="41.68" rx="3.78" ry="5.52" fill="#2a7af8"/><ellipse cx="265.00" cy="41.76" rx="3.12" ry="4.84" fill="#22cdf0"/><ellipse cx="265.00" cy="41.85" rx="2.55" ry="4.09" fill="#5ad04a"/><ellipse cx="265.00" cy="41.95" rx="1.98" ry="3.29" fill="#f0ea22"/><ellipse cx="265.00" cy="42.10" rx="1.28" ry="2.05" fill="#f8901a"/><ellipse cx="265.00" cy="95.80" rx="4.53" ry="9.25" fill="#e6e6f8"/><ellipse cx="265.00" cy="95.80" rx="4.22" ry="8.02" fill="none" stroke="#6e6ed8" stroke-width="0.4" opacity="0.6"/><ellipse cx="265.00" cy="95.80" rx="4.53" ry="9.25" fill="none" stroke="#6e6ed8" stroke-width="0.4" opacity="0.6"/><ellipse cx="265.00" cy="95.80" rx="3.90" ry="6.80" fill="#2c36f2"/><ellipse cx="265.00" cy="95.80" rx="2.89" ry="5.58" fill="#2a7af8"/><ellipse cx="265.00" cy="95.80" rx="1.64" ry="4.35" fill="#22cdf0"/><ellipse cx="265.00" cy="95.80" rx="0.78" ry="2.18" fill="#a0e870"/><path d="M273.5,43.5 C273.5,58.0 275.2,58.0 275.2,67.8 C275.2,77.5 273.2,77.5 273.2,92.1 L281.8,92.1 C281.8,77.5 279.8,77.5 279.8,67.8 C279.8,58.0 281.5,58.0 281.5,43.5 Z" fill="#eeeefa"/><path d="M273.5,43.5 C273.5,58.0 275.2,58.0 275.2,67.8 C275.2,77.5 273.2,77.5 273.2,92.1" fill="none" stroke="#5c5cca" stroke-width="0.45" opacity="0.75"/><path d="M281.5,43.5 C281.5,58.0 279.8,58.0 279.8,67.8 C279.8,77.5 281.8,77.5 281.8,92.1" fill="none" stroke="#5c5cca" stroke-width="0.45" opacity="0.75"/><path d="M274.7,43.5 C274.7,58.0 278.5,58.0 278.5,67.8 C278.5,77.5 274.5,77.5 274.5,92.1" fill="none" stroke="#5c5cca" stroke-width="0.45" opacity="0.75"/><path d="M280.3,43.5 C280.3,58.0 276.5,58.0 276.5,67.8 C276.5,77.5 280.5,77.5 280.5,92.1" fill="none" stroke="#5c5cca" stroke-width="0.45" opacity="0.75"/><path d="M275.8,43.5 C275.8,58.0 278.1,58.0 278.1,67.8 C278.1,77.5 275.7,77.5 275.7,92.1" fill="none" stroke="#5c5cca" stroke-width="0.45" opacity="0.75"/><path d="M279.2,43.5 C279.2,58.0 276.9,58.0 276.9,67.8 C276.9,77.5 279.3,77.5 279.3,92.1" fill="none" stroke="#5c5cca" stroke-width="0.45" opacity="0.75"/><path d="M276.9,43.5 C276.9,58.0 277.7,58.0 277.7,67.8 C277.7,77.5 276.9,77.5 276.9,92.1" fill="none" stroke="#5c5cca" stroke-width="0.45" opacity="0.75"/><path d="M278.1,43.5 C278.1,58.0 277.3,58.0 277.3,67.8 C277.3,77.5 278.1,77.5 278.1,92.1" fill="none" stroke="#5c5cca" stroke-width="0.45" opacity="0.75"/><ellipse cx="277.50" cy="40.00" rx="5.11" ry="8.57" fill="#e6e6f8"/><ellipse cx="277.50" cy="40.00" rx="4.76" ry="7.43" fill="none" stroke="#6e6ed8" stroke-width="0.4" opacity="0.6"/><ellipse cx="277.50" cy="40.00" rx="5.11" ry="8.57" fill="none" stroke="#6e6ed8" stroke-width="0.4" opacity="0.6"/><ellipse cx="277.50" cy="40.00" rx="4.40" ry="6.30" fill="#2c36f2"/><ellipse cx="277.50" cy="40.09" rx="3.70" ry="5.54" fill="#2a7af8"/><ellipse cx="277.50" cy="40.18" rx="2.99" ry="4.79" fill="#22cdf0"/><ellipse cx="277.50" cy="40.29" rx="2.38" ry="3.91" fill="#5ad04a"/><ellipse cx="277.50" cy="40.42" rx="1.67" ry="2.77" fill="#f0ea22"/><ellipse cx="277.50" cy="95.80" rx="4.53" ry="9.25" fill="#e6e6f8"/><ellipse cx="277.50" cy="95.80" rx="4.22" ry="8.02" fill="none" stroke="#6e6ed8" stroke-width="0.4" opacity="0.6"/><ellipse cx="277.50" cy="95.80" rx="4.53" ry="9.25" fill="none" stroke="#6e6ed8" stroke-width="0.4" opacity="0.6"/><ellipse cx="277.50" cy="95.80" rx="3.90" ry="6.80" fill="#2c36f2"/><ellipse cx="277.50" cy="95.80" rx="2.89" ry="5.58" fill="#2a7af8"/><ellipse cx="277.50" cy="95.80" rx="1.64" ry="4.35" fill="#22cdf0"/><ellipse cx="277.50" cy="95.80" rx="0.78" ry="2.18" fill="#a0e870"/></g><rect x="258.6" y="32.9" width="12.3" height="75.5" fill="#b8c8bc" fill-opacity="0.22" stroke="#124a1a" stroke-width="2"/><path d="M33.9,128.8 L33.9,218.8 L134.9,218.8" fill="none" stroke="#999999" stroke-width="1.0"/><rect x="103.5" y="133.6" width="12.6" height="88.4" fill="#e0e9e2"/><g filter="url(#bl2)"><path d="M45.10,199.90 C45.10,188.90 44.10,182.90 44.10,161.30 C44.10,150.30 45.34,147.30 47.20,147.30 C49.06,147.30 50.30,150.30 50.30,161.30 C50.30,182.90 49.30,188.90 49.30,199.90" fill="#f6f6fd" stroke="#5a5ad0" stroke-width="0.55" opacity="0.9"/><ellipse cx="47.20" cy="147.90" rx="1.10" ry="1.10" fill="#5a5ad8"/><path d="M57.30,199.90 C57.30,188.90 56.30,182.90 56.30,159.50 C56.30,148.50 57.54,145.50 59.40,145.50 C61.26,145.50 62.50,148.50 62.50,159.50 C62.50,182.90 61.50,188.90 61.50,199.90" fill="#f6f6fd" stroke="#5a5ad0" stroke-width="0.55" opacity="0.9"/><ellipse cx="59.40" cy="146.10" rx="1.10" ry="1.10" fill="#5a5ad8"/><path d="M69.60,199.90 C69.60,188.90 68.60,182.90 68.60,158.00 C68.60,147.00 69.84,144.00 71.70,144.00 C73.56,144.00 74.80,147.00 74.80,158.00 C74.80,182.90 73.80,188.90 73.80,199.90" fill="#f6f6fd" stroke="#5a5ad0" stroke-width="0.55" opacity="0.9"/><ellipse cx="71.70" cy="144.60" rx="1.10" ry="1.10" fill="#5a5ad8"/><path d="M82.70,199.80 C82.70,188.80 81.60,182.80 81.60,155.40 C81.60,144.40 82.88,141.40 84.80,141.40 C86.72,141.40 88.00,144.40 88.00,155.40 C88.00,182.80 86.90,188.80 86.90,199.80" fill="#f6f6fd" stroke="#5a5ad0" stroke-width="0.55" opacity="0.9"/><ellipse cx="84.80" cy="142.00" rx="1.10" ry="1.10" fill="#5a5ad8"/><path d="M95.10,199.50 C95.10,188.50 94.00,182.50 94.00,154.40 C94.00,143.40 95.28,140.40 97.20,140.40 C99.12,140.40 100.40,143.40 100.40,154.40 C100.40,182.50 99.30,188.50 99.30,199.50" fill="#f6f6fd" stroke="#5a5ad0" stroke-width="0.55" opacity="0.9"/><ellipse cx="97.20" cy="141.00" rx="1.10" ry="1.10" fill="#5a5ad8"/><path d="M107.30,198.30 C107.30,187.30 106.00,181.30 106.00,153.40 C106.00,142.40 107.36,139.40 109.40,139.40 C111.44,139.40 112.80,142.40 112.80,153.40 C112.80,181.30 111.50,187.30 111.50,198.30" fill="#f6f6fd" stroke="#5a5ad0" stroke-width="0.55" opacity="0.9"/><ellipse cx="109.40" cy="140.00" rx="1.10" ry="1.10" fill="#5a5ad8"/><ellipse cx="109.40" cy="151.80" rx="0.60" ry="1.50" fill="none" stroke="#5a5ad0" stroke-width="0.5" opacity="0.85"/><path d="M120.30,196.90 C120.30,185.90 118.80,179.90 118.80,151.80 C118.80,140.80 120.24,137.80 122.40,137.80 C124.56,137.80 126.00,140.80 126.00,151.80 C126.00,179.90 124.50,185.90 124.50,196.90" fill="#f6f6fd" stroke="#5a5ad0" stroke-width="0.55" opacity="0.9"/><ellipse cx="122.40" cy="138.40" rx="1.10" ry="1.10" fill="#5a5ad8"/><ellipse cx="122.40" cy="150.80" rx="1.30" ry="3.00" fill="none" stroke="#5a5ad0" stroke-width="0.5" opacity="0.85"/></g><g filter="url(#bl)"><path d="M47.20,192.90 C49.05,192.90 52.50,200.40 52.50,205.40 C52.50,209.47 50.12,212.80 47.20,212.80 C44.29,212.80 41.90,209.47 41.90,205.40 C41.90,200.40 45.35,192.90 47.20,192.90 Z" fill="#e2e2f8"/><path d="M47.20,192.90 C49.05,192.90 52.50,200.40 52.50,205.40 C52.50,209.47 50.12,212.80 47.20,212.80 C44.29,212.80 41.90,209.47 41.90,205.40 C41.90,200.40 45.35,192.90 47.20,192.90 Z" fill="none" stroke="#6e6ed8" stroke-width="0.4" opacity="0.75"/><path d="M47.20,194.58 C48.83,194.58 51.86,201.18 51.86,205.58 C51.86,209.16 49.77,212.09 47.20,212.09 C44.63,212.09 42.54,209.16 42.54,205.58 C42.54,201.18 45.57,194.58 47.20,194.58 Z" fill="none" stroke="#6e6ed8" stroke-width="0.4" opacity="0.6"/><path d="M47.20,196.26 C48.61,196.26 51.23,201.96 51.23,205.76 C51.23,208.85 49.42,211.38 47.20,211.38 C44.98,211.38 43.17,208.85 43.17,205.76 C43.17,201.96 45.79,196.26 47.20,196.26 Z" fill="none" stroke="#6e6ed8" stroke-width="0.4" opacity="0.5"/><ellipse cx="47.20" cy="205.40" rx="4.30" ry="5.00" fill="#2c36f2"/><ellipse cx="47.20" cy="205.40" rx="3.74" ry="4.50" fill="#2a7af8"/><ellipse cx="47.20" cy="205.40" rx="3.14" ry="4.00" fill="#22cdf0"/><ellipse cx="47.20" cy="205.40" rx="2.62" ry="3.50" fill="#5ad04a"/><ellipse cx="47.20" cy="205.40" rx="2.11" ry="3.00" fill="#f0ea22"/><ellipse cx="47.20" cy="205.40" rx="1.55" ry="2.25" fill="#f8901a"/><ellipse cx="47.20" cy="205.40" rx="0.86" ry="1.30" fill="#ee3a18"/><path d="M59.40,192.90 C61.25,192.90 64.70,200.40 64.70,205.40 C64.70,209.47 62.31,212.80 59.40,212.80 C56.48,212.80 54.10,209.47 54.10,205.40 C54.10,200.40 57.55,192.90 59.40,192.90 Z" fill="#e2e2f8"/><path d="M59.40,192.90 C61.25,192.90 64.70,200.40 64.70,205.40 C64.70,209.47 62.31,212.80 59.40,212.80 C56.48,212.80 54.10,209.47 54.10,205.40 C54.10,200.40 57.55,192.90 59.40,192.90 Z" fill="none" stroke="#6e6ed8" stroke-width="0.4" opacity="0.75"/><path d="M59.40,194.58 C61.03,194.58 64.06,201.18 64.06,205.58 C64.06,209.16 61.97,212.09 59.40,212.09 C56.83,212.09 54.74,209.16 54.74,205.58 C54.74,201.18 57.77,194.58 59.40,194.58 Z" fill="none" stroke="#6e6ed8" stroke-width="0.4" opacity="0.6"/><path d="M59.40,196.26 C60.81,196.26 63.43,201.96 63.43,205.76 C63.43,208.85 61.62,211.38 59.40,211.38 C57.18,211.38 55.37,208.85 55.37,205.76 C55.37,201.96 57.99,196.26 59.40,196.26 Z" fill="none" stroke="#6e6ed8" stroke-width="0.4" opacity="0.5"/><ellipse cx="59.40" cy="205.40" rx="4.30" ry="5.00" fill="#2c36f2"/><ellipse cx="59.40" cy="205.40" rx="3.74" ry="4.50" fill="#2a7af8"/><ellipse cx="59.40" cy="205.40" rx="3.14" ry="4.00" fill="#22cdf0"/><ellipse cx="59.40" cy="205.40" rx="2.62" ry="3.50" fill="#5ad04a"/><ellipse cx="59.40" cy="205.40" rx="2.11" ry="3.00" fill="#f0ea22"/><ellipse cx="59.40" cy="205.40" rx="1.55" ry="2.25" fill="#f8901a"/><ellipse cx="59.40" cy="205.40" rx="0.86" ry="1.30" fill="#ee3a18"/><path d="M71.70,192.90 C73.56,192.90 77.00,200.40 77.00,205.40 C77.00,209.47 74.62,212.80 71.70,212.80 C68.78,212.80 66.40,209.47 66.40,205.40 C66.40,200.40 69.84,192.90 71.70,192.90 Z" fill="#e2e2f8"/><path d="M71.70,192.90 C73.56,192.90 77.00,200.40 77.00,205.40 C77.00,209.47 74.62,212.80 71.70,212.80 C68.78,212.80 66.40,209.47 66.40,205.40 C66.40,200.40 69.84,192.90 71.70,192.90 Z" fill="none" stroke="#6e6ed8" stroke-width="0.4" opacity="0.75"/><path d="M71.70,194.58 C73.33,194.58 76.36,201.18 76.36,205.58 C76.36,209.16 74.27,212.09 71.70,212.09 C69.13,212.09 67.04,209.16 67.04,205.58 C67.04,201.18 70.07,194.58 71.70,194.58 Z" fill="none" stroke="#6e6ed8" stroke-width="0.4" opacity="0.6"/><path d="M71.70,196.26 C73.11,196.26 75.73,201.96 75.73,205.76 C75.73,208.85 73.92,211.38 71.70,211.38 C69.48,211.38 67.67,208.85 67.67,205.76 C67.67,201.96 70.29,196.26 71.70,196.26 Z" fill="none" stroke="#6e6ed8" stroke-width="0.4" opacity="0.5"/><ellipse cx="71.70" cy="205.40" rx="4.30" ry="5.00" fill="#2c36f2"/><ellipse cx="71.70" cy="205.40" rx="3.74" ry="4.50" fill="#2a7af8"/><ellipse cx="71.70" cy="205.40" rx="3.14" ry="4.00" fill="#22cdf0"/><ellipse cx="71.70" cy="205.40" rx="2.62" ry="3.50" fill="#5ad04a"/><ellipse cx="71.70" cy="205.40" rx="2.11" ry="3.00" fill="#f0ea22"/><ellipse cx="71.70" cy="205.40" rx="1.55" ry="2.25" fill="#f8901a"/><ellipse cx="71.70" cy="205.40" rx="0.86" ry="1.30" fill="#ee3a18"/><path d="M84.80,192.80 C86.66,192.80 90.10,200.30 90.10,205.30 C90.10,209.37 87.72,212.70 84.80,212.70 C81.88,212.70 79.50,209.37 79.50,205.30 C79.50,200.30 82.94,192.80 84.80,192.80 Z" fill="#e2e2f8"/><path d="M84.80,192.80 C86.66,192.80 90.10,200.30 90.10,205.30 C90.10,209.37 87.72,212.70 84.80,212.70 C81.88,212.70 79.50,209.37 79.50,205.30 C79.50,200.30 82.94,192.80 84.80,192.80 Z" fill="none" stroke="#6e6ed8" stroke-width="0.4" opacity="0.75"/><path d="M84.80,194.48 C86.43,194.48 89.46,201.08 89.46,205.48 C89.46,209.06 87.37,211.99 84.80,211.99 C82.23,211.99 80.14,209.06 80.14,205.48 C80.14,201.08 83.17,194.48 84.80,194.48 Z" fill="none" stroke="#6e6ed8" stroke-width="0.4" opacity="0.6"/><path d="M84.80,196.16 C86.21,196.16 88.83,201.86 88.83,205.66 C88.83,208.75 87.02,211.28 84.80,211.28 C82.58,211.28 80.77,208.75 80.77,205.66 C80.77,201.86 83.39,196.16 84.80,196.16 Z" fill="none" stroke="#6e6ed8" stroke-width="0.4" opacity="0.5"/><ellipse cx="84.80" cy="205.30" rx="4.30" ry="5.00" fill="#2c36f2"/><ellipse cx="84.80" cy="205.30" rx="3.74" ry="4.50" fill="#2a7af8"/><ellipse cx="84.80" cy="205.30" rx="3.14" ry="4.00" fill="#22cdf0"/><ellipse cx="84.80" cy="205.30" rx="2.62" ry="3.50" fill="#5ad04a"/><ellipse cx="84.80" cy="205.30" rx="2.11" ry="3.00" fill="#f0ea22"/><ellipse cx="84.80" cy="205.30" rx="1.55" ry="2.25" fill="#f8901a"/><ellipse cx="84.80" cy="205.30" rx="0.86" ry="1.30" fill="#ee3a18"/><path d="M97.20,192.50 C99.06,192.50 102.50,200.00 102.50,205.00 C102.50,209.07 100.12,212.40 97.20,212.40 C94.28,212.40 91.90,209.07 91.90,205.00 C91.90,200.00 95.34,192.50 97.20,192.50 Z" fill="#e2e2f8"/><path d="M97.20,192.50 C99.06,192.50 102.50,200.00 102.50,205.00 C102.50,209.07 100.12,212.40 97.20,212.40 C94.28,212.40 91.90,209.07 91.90,205.00 C91.90,200.00 95.34,192.50 97.20,192.50 Z" fill="none" stroke="#6e6ed8" stroke-width="0.4" opacity="0.75"/><path d="M97.20,194.18 C98.83,194.18 101.86,200.78 101.86,205.18 C101.86,208.76 99.77,211.69 97.20,211.69 C94.63,211.69 92.54,208.76 92.54,205.18 C92.54,200.78 95.57,194.18 97.20,194.18 Z" fill="none" stroke="#6e6ed8" stroke-width="0.4" opacity="0.6"/><path d="M97.20,195.86 C98.61,195.86 101.23,201.56 101.23,205.36 C101.23,208.45 99.42,210.98 97.20,210.98 C94.98,210.98 93.17,208.45 93.17,205.36 C93.17,201.56 95.79,195.86 97.20,195.86 Z" fill="none" stroke="#6e6ed8" stroke-width="0.4" opacity="0.5"/><ellipse cx="97.20" cy="205.00" rx="4.30" ry="5.00" fill="#2c36f2"/><ellipse cx="97.20" cy="205.00" rx="3.74" ry="4.50" fill="#2a7af8"/><ellipse cx="97.20" cy="205.00" rx="3.14" ry="4.00" fill="#22cdf0"/><ellipse cx="97.20" cy="205.00" rx="2.62" ry="3.50" fill="#5ad04a"/><ellipse cx="97.20" cy="205.00" rx="2.11" ry="3.00" fill="#f0ea22"/><ellipse cx="97.20" cy="205.00" rx="1.55" ry="2.25" fill="#f8901a"/><ellipse cx="97.20" cy="205.00" rx="0.86" ry="1.30" fill="#ee3a18"/><path d="M109.40,191.30 C111.26,191.30 114.70,198.80 114.70,203.80 C114.70,207.87 112.32,211.20 109.40,211.20 C106.48,211.20 104.10,207.87 104.10,203.80 C104.10,198.80 107.55,191.30 109.40,191.30 Z" fill="#e2e2f8"/><path d="M109.40,191.30 C111.26,191.30 114.70,198.80 114.70,203.80 C114.70,207.87 112.32,211.20 109.40,211.20 C106.48,211.20 104.10,207.87 104.10,203.80 C104.10,198.80 107.55,191.30 109.40,191.30 Z" fill="none" stroke="#6e6ed8" stroke-width="0.4" opacity="0.75"/><path d="M109.40,192.98 C111.03,192.98 114.06,199.58 114.06,203.98 C114.06,207.56 111.97,210.49 109.40,210.49 C106.83,210.49 104.74,207.56 104.74,203.98 C104.74,199.58 107.77,192.98 109.40,192.98 Z" fill="none" stroke="#6e6ed8" stroke-width="0.4" opacity="0.6"/><path d="M109.40,194.66 C110.81,194.66 113.43,200.36 113.43,204.16 C113.43,207.25 111.62,209.78 109.40,209.78 C107.18,209.78 105.37,207.25 105.37,204.16 C105.37,200.36 107.99,194.66 109.40,194.66 Z" fill="none" stroke="#6e6ed8" stroke-width="0.4" opacity="0.5"/><ellipse cx="109.40" cy="203.80" rx="4.30" ry="5.00" fill="#2c36f2"/><ellipse cx="109.40" cy="203.80" rx="3.70" ry="4.45" fill="#2a7af8"/><ellipse cx="109.40" cy="203.80" rx="3.05" ry="3.90" fill="#22cdf0"/><ellipse cx="109.40" cy="203.80" rx="2.49" ry="3.30" fill="#5ad04a"/><ellipse cx="109.40" cy="203.80" rx="1.94" ry="2.65" fill="#f0ea22"/><ellipse cx="109.40" cy="203.80" rx="1.25" ry="1.65" fill="#f8901a"/><path d="M122.40,189.90 C124.26,189.90 127.70,197.40 127.70,202.40 C127.70,206.47 125.32,209.80 122.40,209.80 C119.48,209.80 117.10,206.47 117.10,202.40 C117.10,197.40 120.55,189.90 122.40,189.90 Z" fill="#e2e2f8"/><path d="M122.40,189.90 C124.26,189.90 127.70,197.40 127.70,202.40 C127.70,206.47 125.32,209.80 122.40,209.80 C119.48,209.80 117.10,206.47 117.10,202.40 C117.10,197.40 120.55,189.90 122.40,189.90 Z" fill="none" stroke="#6e6ed8" stroke-width="0.4" opacity="0.75"/><path d="M122.40,191.58 C124.03,191.58 127.06,198.18 127.06,202.58 C127.06,206.16 124.97,209.09 122.40,209.09 C119.83,209.09 117.74,206.16 117.74,202.58 C117.74,198.18 120.77,191.58 122.40,191.58 Z" fill="none" stroke="#6e6ed8" stroke-width="0.4" opacity="0.6"/><path d="M122.40,193.26 C123.81,193.26 126.43,198.96 126.43,202.76 C126.43,205.85 124.62,208.38 122.40,208.38 C120.18,208.38 118.37,205.85 118.37,202.76 C118.37,198.96 120.99,193.26 122.40,193.26 Z" fill="none" stroke="#6e6ed8" stroke-width="0.4" opacity="0.5"/><ellipse cx="122.40" cy="202.40" rx="3.90" ry="5.60" fill="#2c36f2"/><ellipse cx="122.40" cy="202.40" rx="3.04" ry="4.82" fill="#2a7af8"/><ellipse cx="122.40" cy="202.40" rx="2.34" ry="4.26" fill="#22cdf0"/><ellipse cx="122.40" cy="202.40" rx="1.75" ry="3.58" fill="#5ad04a"/><ellipse cx="122.40" cy="202.40" rx="1.09" ry="2.80" fill="#f0ea22"/></g><rect x="103.6" y="133.7" width="12.4" height="88.2" fill="#b8c8bc" fill-opacity="0.22" stroke="#124a1a" stroke-width="2"/><path d="M188.4,128.6 L188.4,218.2 L288.8,218.2" fill="none" stroke="#999999" stroke-width="1.0"/><rect x="258.2" y="133.9" width="12.8" height="88.2" fill="#e0e9e2"/><g filter="url(#bl2)"><path d="M199.20,202.90 C199.20,191.90 198.20,185.90 198.20,160.40 C198.20,149.40 199.44,146.40 201.30,146.40 C203.16,146.40 204.40,149.40 204.40,160.40 C204.40,185.90 203.40,191.90 203.40,202.90" fill="#f6f6fd" stroke="#5a5ad0" stroke-width="0.55" opacity="0.9"/><ellipse cx="201.30" cy="147.00" rx="1.10" ry="1.10" fill="#5a5ad8"/><ellipse cx="201.30" cy="159.00" rx="0.80" ry="2.20" fill="none" stroke="#5a5ad0" stroke-width="0.5" opacity="0.85"/><path d="M211.10,202.90 C211.10,191.90 210.10,185.90 210.10,158.50 C210.10,147.50 211.34,144.50 213.20,144.50 C215.06,144.50 216.30,147.50 216.30,158.50 C216.30,185.90 215.30,191.90 215.30,202.90" fill="#f6f6fd" stroke="#5a5ad0" stroke-width="0.55" opacity="0.9"/><ellipse cx="213.20" cy="145.10" rx="1.10" ry="1.10" fill="#5a5ad8"/><ellipse cx="213.20" cy="158.00" rx="0.90" ry="2.40" fill="none" stroke="#5a5ad0" stroke-width="0.5" opacity="0.85"/><path d="M223.40,202.90 C223.40,191.90 222.40,185.90 222.40,156.50 C222.40,145.50 223.64,142.50 225.50,142.50 C227.36,142.50 228.60,145.50 228.60,156.50 C228.60,185.90 227.60,191.90 227.60,202.90" fill="#f6f6fd" stroke="#5a5ad0" stroke-width="0.55" opacity="0.9"/><ellipse cx="225.50" cy="143.10" rx="1.10" ry="1.10" fill="#5a5ad8"/><ellipse cx="225.50" cy="156.00" rx="0.90" ry="3.00" fill="none" stroke="#5a5ad0" stroke-width="0.5" opacity="0.85"/><path d="M236.20,202.90 C236.20,191.90 235.10,185.90 235.10,154.50 C235.10,143.50 236.38,140.50 238.30,140.50 C240.22,140.50 241.50,143.50 241.50,154.50 C241.50,185.90 240.40,191.90 240.40,202.90" fill="#f6f6fd" stroke="#5a5ad0" stroke-width="0.55" opacity="0.9"/><ellipse cx="238.30" cy="141.10" rx="1.10" ry="1.10" fill="#5a5ad8"/><ellipse cx="238.30" cy="152.00" rx="1.20" ry="3.00" fill="none" stroke="#5a5ad0" stroke-width="0.5" opacity="0.85"/><path d="M248.70,202.70 C248.70,191.70 247.50,185.70 247.50,153.00 C247.50,142.00 248.82,139.00 250.80,139.00 C252.78,139.00 254.10,142.00 254.10,153.00 C254.10,185.70 252.90,191.70 252.90,202.70" fill="#f6f6fd" stroke="#5a5ad0" stroke-width="0.55" opacity="0.9"/><ellipse cx="250.80" cy="139.60" rx="1.10" ry="1.10" fill="#5a5ad8"/><ellipse cx="250.80" cy="152.00" rx="1.30" ry="3.50" fill="none" stroke="#5a5ad0" stroke-width="0.5" opacity="0.85"/><path d="M261.70,201.70 C261.70,190.70 260.30,184.70 260.30,151.50 C260.30,140.50 261.70,137.50 263.80,137.50 C265.90,137.50 267.30,140.50 267.30,151.50 C267.30,184.70 265.90,190.70 265.90,201.70" fill="#f6f6fd" stroke="#5a5ad0" stroke-width="0.55" opacity="0.9"/><ellipse cx="263.80" cy="138.10" rx="1.10" ry="1.10" fill="#5a5ad8"/><ellipse cx="263.80" cy="150.00" rx="1.30" ry="4.00" fill="none" stroke="#5a5ad0" stroke-width="0.5" opacity="0.85"/><path d="M274.40,199.80 C274.40,188.80 272.90,182.80 272.90,150.40 C272.90,139.40 274.34,136.40 276.50,136.40 C278.66,136.40 280.10,139.40 280.10,150.40 C280.10,182.80 278.60,188.80 278.60,199.80" fill="#f6f6fd" stroke="#5a5ad0" stroke-width="0.55" opacity="0.9"/><ellipse cx="276.50" cy="137.00" rx="1.10" ry="1.10" fill="#5a5ad8"/><ellipse cx="276.50" cy="149.00" rx="1.40" ry="4.20" fill="none" stroke="#5a5ad0" stroke-width="0.5" opacity="0.85"/></g><g filter="url(#bl)"><path d="M201.30,195.90 C203.16,195.90 206.60,203.40 206.60,208.40 C206.60,212.47 204.22,215.80 201.30,215.80 C198.39,215.80 196.00,212.47 196.00,208.40 C196.00,203.40 199.45,195.90 201.30,195.90 Z" fill="#e2e2f8"/><path d="M201.30,195.90 C203.16,195.90 206.60,203.40 206.60,208.40 C206.60,212.47 204.22,215.80 201.30,215.80 C198.39,215.80 196.00,212.47 196.00,208.40 C196.00,203.40 199.45,195.90 201.30,195.90 Z" fill="none" stroke="#6e6ed8" stroke-width="0.4" opacity="0.75"/><path d="M201.30,197.58 C202.93,197.58 205.96,204.18 205.96,208.58 C205.96,212.16 203.87,215.09 201.30,215.09 C198.73,215.09 196.64,212.16 196.64,208.58 C196.64,204.18 199.67,197.58 201.30,197.58 Z" fill="none" stroke="#6e6ed8" stroke-width="0.4" opacity="0.6"/><path d="M201.30,199.26 C202.71,199.26 205.33,204.96 205.33,208.76 C205.33,211.85 203.52,214.38 201.30,214.38 C199.08,214.38 197.27,211.85 197.27,208.76 C197.27,204.96 199.89,199.26 201.30,199.26 Z" fill="none" stroke="#6e6ed8" stroke-width="0.4" opacity="0.5"/><ellipse cx="201.30" cy="208.40" rx="4.30" ry="5.00" fill="#2c36f2"/><ellipse cx="201.30" cy="208.40" rx="3.74" ry="4.50" fill="#2a7af8"/><ellipse cx="201.30" cy="208.40" rx="3.14" ry="4.00" fill="#22cdf0"/><ellipse cx="201.30" cy="208.40" rx="2.62" ry="3.50" fill="#5ad04a"/><ellipse cx="201.30" cy="208.40" rx="2.11" ry="3.00" fill="#f0ea22"/><ellipse cx="201.30" cy="208.40" rx="1.55" ry="2.25" fill="#f8901a"/><ellipse cx="201.30" cy="208.40" rx="0.86" ry="1.30" fill="#ee3a18"/><path d="M213.20,195.90 C215.05,195.90 218.50,203.40 218.50,208.40 C218.50,212.47 216.11,215.80 213.20,215.80 C210.28,215.80 207.90,212.47 207.90,208.40 C207.90,203.40 211.34,195.90 213.20,195.90 Z" fill="#e2e2f8"/><path d="M213.20,195.90 C215.05,195.90 218.50,203.40 218.50,208.40 C218.50,212.47 216.11,215.80 213.20,215.80 C210.28,215.80 207.90,212.47 207.90,208.40 C207.90,203.40 211.34,195.90 213.20,195.90 Z" fill="none" stroke="#6e6ed8" stroke-width="0.4" opacity="0.75"/><path d="M213.20,197.58 C214.83,197.58 217.86,204.18 217.86,208.58 C217.86,212.16 215.77,215.09 213.20,215.09 C210.63,215.09 208.54,212.16 208.54,208.58 C208.54,204.18 211.57,197.58 213.20,197.58 Z" fill="none" stroke="#6e6ed8" stroke-width="0.4" opacity="0.6"/><path d="M213.20,199.26 C214.61,199.26 217.23,204.96 217.23,208.76 C217.23,211.85 215.42,214.38 213.20,214.38 C210.98,214.38 209.17,211.85 209.17,208.76 C209.17,204.96 211.79,199.26 213.20,199.26 Z" fill="none" stroke="#6e6ed8" stroke-width="0.4" opacity="0.5"/><ellipse cx="213.20" cy="208.40" rx="4.30" ry="5.00" fill="#2c36f2"/><ellipse cx="213.20" cy="208.40" rx="3.74" ry="4.50" fill="#2a7af8"/><ellipse cx="213.20" cy="208.40" rx="3.14" ry="4.00" fill="#22cdf0"/><ellipse cx="213.20" cy="208.40" rx="2.62" ry="3.50" fill="#5ad04a"/><ellipse cx="213.20" cy="208.40" rx="2.11" ry="3.00" fill="#f0ea22"/><ellipse cx="213.20" cy="208.40" rx="1.55" ry="2.25" fill="#f8901a"/><ellipse cx="213.20" cy="208.40" rx="0.86" ry="1.30" fill="#ee3a18"/><path d="M225.50,195.90 C227.35,195.90 230.80,203.40 230.80,208.40 C230.80,212.47 228.41,215.80 225.50,215.80 C222.59,215.80 220.20,212.47 220.20,208.40 C220.20,203.40 223.65,195.90 225.50,195.90 Z" fill="#e2e2f8"/><path d="M225.50,195.90 C227.35,195.90 230.80,203.40 230.80,208.40 C230.80,212.47 228.41,215.80 225.50,215.80 C222.59,215.80 220.20,212.47 220.20,208.40 C220.20,203.40 223.65,195.90 225.50,195.90 Z" fill="none" stroke="#6e6ed8" stroke-width="0.4" opacity="0.75"/><path d="M225.50,197.58 C227.13,197.58 230.16,204.18 230.16,208.58 C230.16,212.16 228.07,215.09 225.50,215.09 C222.93,215.09 220.84,212.16 220.84,208.58 C220.84,204.18 223.87,197.58 225.50,197.58 Z" fill="none" stroke="#6e6ed8" stroke-width="0.4" opacity="0.6"/><path d="M225.50,199.26 C226.91,199.26 229.53,204.96 229.53,208.76 C229.53,211.85 227.72,214.38 225.50,214.38 C223.28,214.38 221.47,211.85 221.47,208.76 C221.47,204.96 224.09,199.26 225.50,199.26 Z" fill="none" stroke="#6e6ed8" stroke-width="0.4" opacity="0.5"/><ellipse cx="225.50" cy="208.40" rx="4.30" ry="5.00" fill="#2c36f2"/><ellipse cx="225.50" cy="208.40" rx="3.74" ry="4.50" fill="#2a7af8"/><ellipse cx="225.50" cy="208.40" rx="3.14" ry="4.00" fill="#22cdf0"/><ellipse cx="225.50" cy="208.40" rx="2.62" ry="3.50" fill="#5ad04a"/><ellipse cx="225.50" cy="208.40" rx="2.11" ry="3.00" fill="#f0ea22"/><ellipse cx="225.50" cy="208.40" rx="1.55" ry="2.25" fill="#f8901a"/><ellipse cx="225.50" cy="208.40" rx="0.86" ry="1.30" fill="#ee3a18"/><path d="M238.30,195.90 C240.16,195.90 243.60,203.40 243.60,208.40 C243.60,212.47 241.22,215.80 238.30,215.80 C235.39,215.80 233.00,212.47 233.00,208.40 C233.00,203.40 236.45,195.90 238.30,195.90 Z" fill="#e2e2f8"/><path d="M238.30,195.90 C240.16,195.90 243.60,203.40 243.60,208.40 C243.60,212.47 241.22,215.80 238.30,215.80 C235.39,215.80 233.00,212.47 233.00,208.40 C233.00,203.40 236.45,195.90 238.30,195.90 Z" fill="none" stroke="#6e6ed8" stroke-width="0.4" opacity="0.75"/><path d="M238.30,197.58 C239.93,197.58 242.96,204.18 242.96,208.58 C242.96,212.16 240.87,215.09 238.30,215.09 C235.73,215.09 233.64,212.16 233.64,208.58 C233.64,204.18 236.67,197.58 238.30,197.58 Z" fill="none" stroke="#6e6ed8" stroke-width="0.4" opacity="0.6"/><path d="M238.30,199.26 C239.71,199.26 242.33,204.96 242.33,208.76 C242.33,211.85 240.52,214.38 238.30,214.38 C236.08,214.38 234.27,211.85 234.27,208.76 C234.27,204.96 236.89,199.26 238.30,199.26 Z" fill="none" stroke="#6e6ed8" stroke-width="0.4" opacity="0.5"/><ellipse cx="238.30" cy="208.40" rx="4.30" ry="5.00" fill="#2c36f2"/><ellipse cx="238.30" cy="208.40" rx="3.74" ry="4.50" fill="#2a7af8"/><ellipse cx="238.30" cy="208.40" rx="3.14" ry="4.00" fill="#22cdf0"/><ellipse cx="238.30" cy="208.40" rx="2.62" ry="3.50" fill="#5ad04a"/><ellipse cx="238.30" cy="208.40" rx="2.11" ry="3.00" fill="#f0ea22"/><ellipse cx="238.30" cy="208.40" rx="1.55" ry="2.25" fill="#f8901a"/><ellipse cx="238.30" cy="208.40" rx="0.86" ry="1.30" fill="#ee3a18"/><path d="M250.80,195.70 C252.66,195.70 256.10,203.20 256.10,208.20 C256.10,212.27 253.72,215.60 250.80,215.60 C247.89,215.60 245.50,212.27 245.50,208.20 C245.50,203.20 248.95,195.70 250.80,195.70 Z" fill="#e2e2f8"/><path d="M250.80,195.70 C252.66,195.70 256.10,203.20 256.10,208.20 C256.10,212.27 253.72,215.60 250.80,215.60 C247.89,215.60 245.50,212.27 245.50,208.20 C245.50,203.20 248.95,195.70 250.80,195.70 Z" fill="none" stroke="#6e6ed8" stroke-width="0.4" opacity="0.75"/><path d="M250.80,197.38 C252.43,197.38 255.46,203.98 255.46,208.38 C255.46,211.96 253.37,214.89 250.80,214.89 C248.23,214.89 246.14,211.96 246.14,208.38 C246.14,203.98 249.17,197.38 250.80,197.38 Z" fill="none" stroke="#6e6ed8" stroke-width="0.4" opacity="0.6"/><path d="M250.80,199.06 C252.21,199.06 254.83,204.76 254.83,208.56 C254.83,211.65 253.02,214.18 250.80,214.18 C248.58,214.18 246.77,211.65 246.77,208.56 C246.77,204.76 249.39,199.06 250.80,199.06 Z" fill="none" stroke="#6e6ed8" stroke-width="0.4" opacity="0.5"/><ellipse cx="250.80" cy="208.20" rx="4.30" ry="5.00" fill="#2c36f2"/><ellipse cx="250.80" cy="208.20" rx="3.74" ry="4.50" fill="#2a7af8"/><ellipse cx="250.80" cy="208.20" rx="3.14" ry="4.00" fill="#22cdf0"/><ellipse cx="250.80" cy="208.20" rx="2.62" ry="3.50" fill="#5ad04a"/><ellipse cx="250.80" cy="208.20" rx="2.11" ry="3.00" fill="#f0ea22"/><ellipse cx="250.80" cy="208.20" rx="1.55" ry="2.25" fill="#f8901a"/><ellipse cx="250.80" cy="208.20" rx="0.86" ry="1.30" fill="#ee3a18"/><path d="M263.80,194.70 C265.66,194.70 269.10,202.20 269.10,207.20 C269.10,211.27 266.72,214.60 263.80,214.60 C260.88,214.60 258.50,211.27 258.50,207.20 C258.50,202.20 261.94,194.70 263.80,194.70 Z" fill="#e2e2f8"/><path d="M263.80,194.70 C265.66,194.70 269.10,202.20 269.10,207.20 C269.10,211.27 266.72,214.60 263.80,214.60 C260.88,214.60 258.50,211.27 258.50,207.20 C258.50,202.20 261.94,194.70 263.80,194.70 Z" fill="none" stroke="#6e6ed8" stroke-width="0.4" opacity="0.75"/><path d="M263.80,196.38 C265.43,196.38 268.46,202.98 268.46,207.38 C268.46,210.96 266.37,213.89 263.80,213.89 C261.23,213.89 259.14,210.96 259.14,207.38 C259.14,202.98 262.17,196.38 263.80,196.38 Z" fill="none" stroke="#6e6ed8" stroke-width="0.4" opacity="0.6"/><path d="M263.80,198.06 C265.21,198.06 267.83,203.76 267.83,207.56 C267.83,210.65 266.02,213.18 263.80,213.18 C261.58,213.18 259.77,210.65 259.77,207.56 C259.77,203.76 262.39,198.06 263.80,198.06 Z" fill="none" stroke="#6e6ed8" stroke-width="0.4" opacity="0.5"/><ellipse cx="263.80" cy="207.20" rx="4.30" ry="4.80" fill="#2c36f2"/><ellipse cx="263.80" cy="207.20" rx="3.70" ry="4.27" fill="#2a7af8"/><ellipse cx="263.80" cy="207.20" rx="3.05" ry="3.74" fill="#22cdf0"/><ellipse cx="263.80" cy="207.20" rx="2.49" ry="3.17" fill="#5ad04a"/><ellipse cx="263.80" cy="207.20" rx="1.94" ry="2.54" fill="#f0ea22"/><ellipse cx="263.80" cy="207.20" rx="1.25" ry="1.58" fill="#f8901a"/><path d="M276.50,192.80 C278.36,192.80 281.80,200.30 281.80,205.30 C281.80,209.37 279.42,212.70 276.50,212.70 C273.58,212.70 271.20,209.37 271.20,205.30 C271.20,200.30 274.64,192.80 276.50,192.80 Z" fill="#e2e2f8"/><path d="M276.50,192.80 C278.36,192.80 281.80,200.30 281.80,205.30 C281.80,209.37 279.42,212.70 276.50,212.70 C273.58,212.70 271.20,209.37 271.20,205.30 C271.20,200.30 274.64,192.80 276.50,192.80 Z" fill="none" stroke="#6e6ed8" stroke-width="0.4" opacity="0.75"/><path d="M276.50,194.48 C278.13,194.48 281.16,201.08 281.16,205.48 C281.16,209.06 279.07,211.99 276.50,211.99 C273.93,211.99 271.84,209.06 271.84,205.48 C271.84,201.08 274.87,194.48 276.50,194.48 Z" fill="none" stroke="#6e6ed8" stroke-width="0.4" opacity="0.6"/><path d="M276.50,196.16 C277.91,196.16 280.53,201.86 280.53,205.66 C280.53,208.75 278.72,211.28 276.50,211.28 C274.28,211.28 272.47,208.75 272.47,205.66 C272.47,201.86 275.09,196.16 276.50,196.16 Z" fill="none" stroke="#6e6ed8" stroke-width="0.4" opacity="0.5"/><ellipse cx="276.50" cy="205.30" rx="3.90" ry="5.60" fill="#2c36f2"/><ellipse cx="276.50" cy="205.30" rx="3.04" ry="4.82" fill="#2a7af8"/><ellipse cx="276.50" cy="205.30" rx="2.34" ry="4.26" fill="#22cdf0"/><ellipse cx="276.50" cy="205.30" rx="1.75" ry="3.58" fill="#5ad04a"/><ellipse cx="276.50" cy="205.30" rx="1.09" ry="2.80" fill="#f0ea22"/></g><rect x="258.3" y="134.0" width="12.6" height="88.0" fill="#b8c8bc" fill-opacity="0.22" stroke="#124a1a" stroke-width="2"/><path d="M31.5,242 L31.5,349.4 L140.8,349.4" fill="none" stroke="#999999" stroke-width="1.0"/><rect x="120.7" y="243.1" width="14.1" height="105.6" fill="#e0e9e2"/><g filter="url(#bl)"><path d="M43.60,307.00 C43.60,305.50 47.60,305.50 47.60,307.00 L47.80,311.76 C48.40,315.28 51.23,317.39 51.23,323.00 C51.23,339.20 48.70,345.20 45.60,345.20 C42.50,345.20 39.97,339.20 39.97,323.00 C39.97,317.39 42.80,315.28 43.40,311.76 Z" fill="#dedef5"/><path d="M43.60,307.00 C43.60,305.50 47.60,305.50 47.60,307.00 L47.80,311.76 C48.40,315.28 51.23,317.39 51.23,323.00 C51.23,339.20 48.70,345.20 45.60,345.20 C42.50,345.20 39.97,339.20 39.97,323.00 C39.97,317.39 42.80,315.28 43.40,311.76 Z" fill="none" stroke="#4c4cc4" stroke-width="0.48" opacity="0.8"/><path d="M43.80,308.21 C43.80,306.71 47.40,306.71 47.40,308.21 L47.58,312.94 C48.12,316.44 50.67,318.54 50.67,323.72 C50.67,338.30 48.39,343.70 45.60,343.70 C42.81,343.70 40.53,338.30 40.53,323.72 C40.53,318.54 43.08,316.44 43.62,312.94 Z" fill="none" stroke="#4c4cc4" stroke-width="0.48" opacity="0.65"/><path d="M44.00,309.42 C44.00,307.92 47.20,307.92 47.20,309.42 L47.36,314.12 C47.84,317.60 50.11,319.69 50.11,324.44 C50.11,337.40 48.08,342.20 45.60,342.20 C43.12,342.20 41.09,337.40 41.09,324.44 C41.09,319.69 43.36,317.60 43.84,314.12 Z" fill="none" stroke="#4c4cc4" stroke-width="0.48" opacity="0.6"/><path d="M44.20,310.63 C44.20,309.13 47.00,309.13 47.00,310.63 L47.14,315.30 C47.56,318.76 49.54,320.84 49.54,325.16 C49.54,336.50 47.77,340.70 45.60,340.70 C43.43,340.70 41.66,336.50 41.66,325.16 C41.66,320.84 43.64,318.76 44.06,315.30 Z" fill="none" stroke="#4c4cc4" stroke-width="0.48" opacity="0.55"/><line x1="45.6" y1="291.3" x2="45.6" y2="308.0" stroke="#5858cc" stroke-width="1.3" stroke-dasharray="1.3,1.7" opacity="0.8"/><ellipse cx="45.60" cy="282.80" rx="4.50" ry="9.00" fill="#d4d4f3"/><ellipse cx="45.60" cy="282.80" rx="4.50" ry="9.00" fill="none" stroke="#5454c8" stroke-width="0.45" opacity="0.75"/><ellipse cx="45.60" cy="282.80" rx="3.87" ry="7.74" fill="none" stroke="#5454c8" stroke-width="0.45" opacity="0.75"/><ellipse cx="45.60" cy="282.80" rx="3.24" ry="6.48" fill="none" stroke="#5454c8" stroke-width="0.45" opacity="0.75"/><ellipse cx="45.60" cy="282.80" rx="2.61" ry="5.22" fill="none" stroke="#5454c8" stroke-width="0.45" opacity="0.75"/><ellipse cx="45.60" cy="282.80" rx="2.70" ry="5.00" fill="#5f6cec"/><ellipse cx="45.60" cy="282.80" rx="1.40" ry="3.00" fill="#5a88f6"/><ellipse cx="45.60" cy="282.80" rx="0.55" ry="1.60" fill="#b4d0ff"/><ellipse cx="45.60" cy="330.20" rx="4.90" ry="12.00" fill="#2c36f2"/><ellipse cx="45.60" cy="330.20" rx="4.21" ry="11.04" fill="#2a7af8"/><ellipse cx="45.60" cy="330.20" rx="3.53" ry="10.08" fill="#22cdf0"/><ellipse cx="45.60" cy="330.20" rx="2.94" ry="9.00" fill="#5ad04a"/><ellipse cx="45.60" cy="330.20" rx="2.35" ry="7.80" fill="#f0ea22"/><ellipse cx="45.60" cy="330.20" rx="1.67" ry="6.00" fill="#f8901a"/><ellipse cx="45.60" cy="330.20" rx="0.93" ry="3.84" fill="#ee3a18"/><path d="M56.90,305.00 C56.90,303.50 60.90,303.50 60.90,305.00 L61.10,310.66 C61.70,314.73 64.53,317.17 64.53,323.00 C64.53,339.20 62.00,345.20 58.90,345.20 C55.80,345.20 53.27,339.20 53.27,323.00 C53.27,317.17 56.10,314.73 56.70,310.66 Z" fill="#dedef5"/><path d="M56.90,305.00 C56.90,303.50 60.90,303.50 60.90,305.00 L61.10,310.66 C61.70,314.73 64.53,317.17 64.53,323.00 C64.53,339.20 62.00,345.20 58.90,345.20 C55.80,345.20 53.27,339.20 53.27,323.00 C53.27,317.17 56.10,314.73 56.70,310.66 Z" fill="none" stroke="#4c4cc4" stroke-width="0.48" opacity="0.8"/><path d="M57.10,306.31 C57.10,304.81 60.70,304.81 60.70,306.31 L60.88,311.89 C61.42,315.92 63.97,318.33 63.97,323.72 C63.97,338.30 61.69,343.70 58.90,343.70 C56.11,343.70 53.83,338.30 53.83,323.72 C53.83,318.33 56.38,315.92 56.92,311.89 Z" fill="none" stroke="#4c4cc4" stroke-width="0.48" opacity="0.65"/><path d="M57.30,307.62 C57.30,306.12 60.50,306.12 60.50,307.62 L60.66,313.13 C61.14,317.10 63.41,319.49 63.41,324.44 C63.41,337.40 61.38,342.20 58.90,342.20 C56.42,342.20 54.39,337.40 54.39,324.44 C54.39,319.49 56.66,317.10 57.14,313.13 Z" fill="none" stroke="#4c4cc4" stroke-width="0.48" opacity="0.6"/><path d="M57.50,308.93 C57.50,307.43 60.30,307.43 60.30,308.93 L60.44,314.36 C60.86,318.29 62.84,320.65 62.84,325.16 C62.84,336.50 61.07,340.70 58.90,340.70 C56.73,340.70 54.96,336.50 54.96,325.16 C54.96,320.65 56.94,318.29 57.36,314.36 Z" fill="none" stroke="#4c4cc4" stroke-width="0.48" opacity="0.55"/><line x1="58.9" y1="287.9" x2="58.9" y2="306.0" stroke="#5858cc" stroke-width="1.3" stroke-dasharray="1.3,1.7" opacity="0.8"/><ellipse cx="58.90" cy="279.40" rx="4.50" ry="9.00" fill="#d4d4f3"/><ellipse cx="58.90" cy="279.40" rx="4.50" ry="9.00" fill="none" stroke="#5454c8" stroke-width="0.45" opacity="0.75"/><ellipse cx="58.90" cy="279.40" rx="3.87" ry="7.74" fill="none" stroke="#5454c8" stroke-width="0.45" opacity="0.75"/><ellipse cx="58.90" cy="279.40" rx="3.24" ry="6.48" fill="none" stroke="#5454c8" stroke-width="0.45" opacity="0.75"/><ellipse cx="58.90" cy="279.40" rx="2.61" ry="5.22" fill="none" stroke="#5454c8" stroke-width="0.45" opacity="0.75"/><ellipse cx="58.90" cy="279.40" rx="2.70" ry="5.00" fill="#5f6cec"/><ellipse cx="58.90" cy="279.40" rx="1.40" ry="3.00" fill="#5a88f6"/><ellipse cx="58.90" cy="279.40" rx="0.55" ry="1.60" fill="#b4d0ff"/><ellipse cx="58.90" cy="330.20" rx="4.90" ry="12.00" fill="#2c36f2"/><ellipse cx="58.90" cy="330.20" rx="4.21" ry="11.04" fill="#2a7af8"/><ellipse cx="58.90" cy="330.20" rx="3.53" ry="10.08" fill="#22cdf0"/><ellipse cx="58.90" cy="330.20" rx="2.94" ry="9.00" fill="#5ad04a"/><ellipse cx="58.90" cy="330.20" rx="2.35" ry="7.80" fill="#f0ea22"/><ellipse cx="58.90" cy="330.20" rx="1.67" ry="6.00" fill="#f8901a"/><ellipse cx="58.90" cy="330.20" rx="0.93" ry="3.84" fill="#ee3a18"/><path d="M70.30,302.00 C70.30,300.50 74.30,300.50 74.30,302.00 L74.50,308.71 C75.10,313.42 77.94,316.24 77.94,322.50 C77.94,339.30 75.40,345.50 72.30,345.50 C69.20,345.50 66.66,339.30 66.66,322.50 C66.66,316.24 69.50,313.42 70.10,308.71 Z" fill="#dedef5"/><path d="M70.30,302.00 C70.30,300.50 74.30,300.50 74.30,302.00 L74.50,308.71 C75.10,313.42 77.94,316.24 77.94,322.50 C77.94,339.30 75.40,345.50 72.30,345.50 C69.20,345.50 66.66,339.30 66.66,322.50 C66.66,316.24 69.50,313.42 70.10,308.71 Z" fill="none" stroke="#4c4cc4" stroke-width="0.48" opacity="0.8"/><path d="M70.50,303.45 C70.50,301.95 74.10,301.95 74.10,303.45 L74.28,310.04 C74.82,314.68 77.37,317.46 77.37,323.25 C77.37,338.37 75.09,343.95 72.30,343.95 C69.51,343.95 67.23,338.37 67.23,323.25 C67.23,317.46 69.78,314.68 70.32,310.04 Z" fill="none" stroke="#4c4cc4" stroke-width="0.48" opacity="0.65"/><path d="M70.70,304.90 C70.70,303.40 73.90,303.40 73.90,304.90 L74.06,311.37 C74.54,315.94 76.81,318.67 76.81,324.00 C76.81,337.44 74.78,342.40 72.30,342.40 C69.82,342.40 67.79,337.44 67.79,324.00 C67.79,318.67 70.06,315.94 70.54,311.37 Z" fill="none" stroke="#4c4cc4" stroke-width="0.48" opacity="0.6"/><path d="M70.90,306.35 C70.90,304.85 73.70,304.85 73.70,306.35 L73.84,312.70 C74.26,317.19 76.24,319.89 76.24,324.75 C76.24,336.51 74.47,340.85 72.30,340.85 C70.13,340.85 68.36,336.51 68.36,324.75 C68.36,319.89 70.34,317.19 70.76,312.70 Z" fill="none" stroke="#4c4cc4" stroke-width="0.48" opacity="0.55"/><line x1="72.3" y1="281.5" x2="72.3" y2="303.0" stroke="#5858cc" stroke-width="1.3" stroke-dasharray="1.3,1.7" opacity="0.8"/><ellipse cx="72.30" cy="273.00" rx="4.50" ry="9.00" fill="#d4d4f3"/><ellipse cx="72.30" cy="273.00" rx="4.50" ry="9.00" fill="none" stroke="#5454c8" stroke-width="0.45" opacity="0.75"/><ellipse cx="72.30" cy="273.00" rx="3.87" ry="7.74" fill="none" stroke="#5454c8" stroke-width="0.45" opacity="0.75"/><ellipse cx="72.30" cy="273.00" rx="3.24" ry="6.48" fill="none" stroke="#5454c8" stroke-width="0.45" opacity="0.75"/><ellipse cx="72.30" cy="273.00" rx="2.61" ry="5.22" fill="none" stroke="#5454c8" stroke-width="0.45" opacity="0.75"/><ellipse cx="72.30" cy="273.00" rx="2.70" ry="5.00" fill="#5f6cec"/><ellipse cx="72.30" cy="273.00" rx="1.40" ry="3.00" fill="#5a88f6"/><ellipse cx="72.30" cy="273.00" rx="0.55" ry="1.60" fill="#b4d0ff"/><ellipse cx="72.30" cy="330.00" rx="4.90" ry="12.50" fill="#2c36f2"/><ellipse cx="72.30" cy="330.00" rx="4.21" ry="11.50" fill="#2a7af8"/><ellipse cx="72.30" cy="330.00" rx="3.53" ry="10.50" fill="#22cdf0"/><ellipse cx="72.30" cy="330.00" rx="2.94" ry="9.38" fill="#5ad04a"/><ellipse cx="72.30" cy="330.00" rx="2.35" ry="8.12" fill="#f0ea22"/><ellipse cx="72.30" cy="330.00" rx="1.67" ry="6.25" fill="#f8901a"/><ellipse cx="72.30" cy="330.00" rx="0.93" ry="4.00" fill="#ee3a18"/><path d="M83.80,298.00 C83.80,296.50 87.80,296.50 87.80,298.00 L88.00,306.07 C88.60,311.61 91.32,314.93 91.32,321.70 C91.32,339.10 88.84,345.50 85.80,345.50 C82.76,345.50 80.28,339.10 80.28,321.70 C80.28,314.93 83.00,311.61 83.60,306.07 Z" fill="#dedef5"/><path d="M83.80,298.00 C83.80,296.50 87.80,296.50 87.80,298.00 L88.00,306.07 C88.60,311.61 91.32,314.93 91.32,321.70 C91.32,339.10 88.84,345.50 85.80,345.50 C82.76,345.50 80.28,339.10 80.28,321.70 C80.28,314.93 83.00,311.61 83.60,306.07 Z" fill="none" stroke="#4c4cc4" stroke-width="0.48" opacity="0.8"/><path d="M84.00,299.62 C84.00,298.12 87.60,298.12 87.60,299.62 L87.78,307.52 C88.32,312.95 90.77,316.21 90.77,322.48 C90.77,338.14 88.53,343.90 85.80,343.90 C83.07,343.90 80.83,338.14 80.83,322.48 C80.83,316.21 83.28,312.95 83.82,307.52 Z" fill="none" stroke="#4c4cc4" stroke-width="0.48" opacity="0.65"/><path d="M84.20,301.25 C84.20,299.75 87.40,299.75 87.40,301.25 L87.56,308.97 C88.04,314.29 90.22,317.49 90.22,323.26 C90.22,337.18 88.23,342.30 85.80,342.30 C83.37,342.30 81.38,337.18 81.38,323.26 C81.38,317.49 83.56,314.29 84.04,308.97 Z" fill="none" stroke="#4c4cc4" stroke-width="0.48" opacity="0.6"/><path d="M84.40,302.88 C84.40,301.38 87.20,301.38 87.20,302.88 L87.34,310.42 C87.76,315.64 89.66,318.77 89.66,324.04 C89.66,336.22 87.93,340.70 85.80,340.70 C83.67,340.70 81.94,336.22 81.94,324.04 C81.94,318.77 83.84,315.64 84.26,310.42 Z" fill="none" stroke="#4c4cc4" stroke-width="0.48" opacity="0.55"/><line x1="85.8" y1="277.0" x2="85.8" y2="299.0" stroke="#5858cc" stroke-width="1.3" stroke-dasharray="1.3,1.7" opacity="0.8"/><ellipse cx="85.80" cy="268.50" rx="4.50" ry="9.00" fill="#d4d4f3"/><ellipse cx="85.80" cy="268.50" rx="4.50" ry="9.00" fill="none" stroke="#5454c8" stroke-width="0.45" opacity="0.75"/><ellipse cx="85.80" cy="268.50" rx="3.87" ry="7.74" fill="none" stroke="#5454c8" stroke-width="0.45" opacity="0.75"/><ellipse cx="85.80" cy="268.50" rx="3.24" ry="6.48" fill="none" stroke="#5454c8" stroke-width="0.45" opacity="0.75"/><ellipse cx="85.80" cy="268.50" rx="2.61" ry="5.22" fill="none" stroke="#5454c8" stroke-width="0.45" opacity="0.75"/><ellipse cx="85.80" cy="268.50" rx="2.70" ry="5.00" fill="#5f6cec"/><ellipse cx="85.80" cy="268.50" rx="1.40" ry="3.00" fill="#5a88f6"/><ellipse cx="85.80" cy="268.50" rx="0.55" ry="1.60" fill="#b4d0ff"/><ellipse cx="85.80" cy="329.50" rx="4.80" ry="13.00" fill="#2c36f2"/><ellipse cx="85.80" cy="329.50" rx="4.13" ry="11.96" fill="#2a7af8"/><ellipse cx="85.80" cy="329.50" rx="3.46" ry="10.92" fill="#22cdf0"/><ellipse cx="85.80" cy="329.50" rx="2.88" ry="9.75" fill="#5ad04a"/><ellipse cx="85.80" cy="329.50" rx="2.30" ry="8.45" fill="#f0ea22"/><ellipse cx="85.80" cy="329.50" rx="1.63" ry="6.50" fill="#f8901a"/><ellipse cx="85.80" cy="329.50" rx="0.91" ry="4.16" fill="#ee3a18"/><path d="M98.00,287.00 C98.00,285.50 102.00,285.50 102.00,287.00 L102.20,297.80 C102.80,305.01 105.29,309.34 105.29,317.30 C105.29,337.70 102.91,345.50 100.00,345.50 C97.09,345.50 94.71,337.70 94.71,317.30 C94.71,309.34 97.20,305.01 97.80,297.80 Z" fill="#dedef5"/><path d="M98.00,287.00 C98.00,285.50 102.00,285.50 102.00,287.00 L102.20,297.80 C102.80,305.01 105.29,309.34 105.29,317.30 C105.29,337.70 102.91,345.50 100.00,345.50 C97.09,345.50 94.71,337.70 94.71,317.30 C94.71,309.34 97.20,305.01 97.80,297.80 Z" fill="none" stroke="#4c4cc4" stroke-width="0.48" opacity="0.8"/><path d="M98.20,289.00 C98.20,287.50 101.80,287.50 101.80,289.00 L101.98,299.52 C102.52,306.56 104.76,310.79 104.76,318.17 C104.76,336.53 102.62,343.55 100.00,343.55 C97.38,343.55 95.24,336.53 95.24,318.17 C95.24,310.79 97.48,306.56 98.02,299.52 Z" fill="none" stroke="#4c4cc4" stroke-width="0.48" opacity="0.65"/><path d="M98.40,291.00 C98.40,289.50 101.60,289.50 101.60,291.00 L101.76,301.24 C102.24,308.11 104.23,312.23 104.23,319.04 C104.23,335.36 102.33,341.60 100.00,341.60 C97.67,341.60 95.77,335.36 95.77,319.04 C95.77,312.23 97.76,308.11 98.24,301.24 Z" fill="none" stroke="#4c4cc4" stroke-width="0.48" opacity="0.6"/><path d="M98.60,293.00 C98.60,291.50 101.40,291.50 101.40,293.00 L101.54,302.96 C101.96,309.66 103.70,313.68 103.70,319.91 C103.70,334.19 102.04,339.65 100.00,339.65 C97.96,339.65 96.30,334.19 96.30,319.91 C96.30,313.68 98.04,309.66 98.46,302.96 Z" fill="none" stroke="#4c4cc4" stroke-width="0.48" opacity="0.55"/><line x1="100.0" y1="273.1" x2="100.0" y2="288.0" stroke="#5858cc" stroke-width="1.3" stroke-dasharray="1.3,1.7" opacity="0.8"/><ellipse cx="100.00" cy="264.60" rx="4.50" ry="9.00" fill="#d4d4f3"/><ellipse cx="100.00" cy="264.60" rx="4.50" ry="9.00" fill="none" stroke="#5454c8" stroke-width="0.45" opacity="0.75"/><ellipse cx="100.00" cy="264.60" rx="3.87" ry="7.74" fill="none" stroke="#5454c8" stroke-width="0.45" opacity="0.75"/><ellipse cx="100.00" cy="264.60" rx="3.24" ry="6.48" fill="none" stroke="#5454c8" stroke-width="0.45" opacity="0.75"/><ellipse cx="100.00" cy="264.60" rx="2.61" ry="5.22" fill="none" stroke="#5454c8" stroke-width="0.45" opacity="0.75"/><ellipse cx="100.00" cy="264.60" rx="2.70" ry="5.00" fill="#5f6cec"/><ellipse cx="100.00" cy="264.60" rx="1.40" ry="3.00" fill="#5a88f6"/><ellipse cx="100.00" cy="264.60" rx="0.55" ry="1.60" fill="#b4d0ff"/><ellipse cx="100.00" cy="326.00" rx="4.60" ry="14.50" fill="#2c36f2"/><ellipse cx="100.00" cy="326.00" rx="3.86" ry="13.05" fill="#2a7af8"/><ellipse cx="100.00" cy="326.00" rx="3.22" ry="11.89" fill="#22cdf0"/><ellipse cx="100.00" cy="326.00" rx="2.62" ry="10.44" fill="#5ad04a"/><ellipse cx="100.00" cy="326.00" rx="2.07" ry="8.70" fill="#f0ea22"/><ellipse cx="100.00" cy="326.00" rx="1.29" ry="5.80" fill="#f8901a"/><path d="M111.20,281.00 C111.20,279.50 115.20,279.50 115.20,281.00 L115.40,293.81 C116.00,302.26 118.49,307.32 118.49,315.60 C118.49,336.90 116.11,345.50 113.20,345.50 C110.29,345.50 107.91,336.90 107.91,315.60 C107.91,307.32 110.40,302.26 111.00,293.81 Z" fill="#dedef5"/><path d="M111.20,281.00 C111.20,279.50 115.20,279.50 115.20,281.00 L115.40,293.81 C116.00,302.26 118.49,307.32 118.49,315.60 C118.49,336.90 116.11,345.50 113.20,345.50 C110.29,345.50 107.91,336.90 107.91,315.60 C107.91,307.32 110.40,302.26 111.00,293.81 Z" fill="none" stroke="#4c4cc4" stroke-width="0.48" opacity="0.8"/><path d="M111.40,283.20 C111.40,281.70 115.00,281.70 115.00,283.20 L115.18,295.62 C115.72,303.83 117.96,308.75 117.96,316.44 C117.96,335.61 115.82,343.35 113.20,343.35 C110.58,343.35 108.44,335.61 108.44,316.44 C108.44,308.75 110.68,303.83 111.22,295.62 Z" fill="none" stroke="#4c4cc4" stroke-width="0.48" opacity="0.65"/><path d="M111.60,285.40 C111.60,283.90 114.80,283.90 114.80,285.40 L114.96,297.43 C115.44,305.40 117.43,310.17 117.43,317.28 C117.43,334.32 115.53,341.20 113.20,341.20 C110.87,341.20 108.97,334.32 108.97,317.28 C108.97,310.17 110.96,305.40 111.44,297.43 Z" fill="none" stroke="#4c4cc4" stroke-width="0.48" opacity="0.6"/><path d="M111.80,287.60 C111.80,286.10 114.60,286.10 114.60,287.60 L114.74,299.24 C115.16,306.97 116.90,311.60 116.90,318.12 C116.90,333.03 115.24,339.05 113.20,339.05 C111.16,339.05 109.50,333.03 109.50,318.12 C109.50,311.60 111.24,306.97 111.66,299.24 Z" fill="none" stroke="#4c4cc4" stroke-width="0.48" opacity="0.55"/><line x1="113.2" y1="270.1" x2="113.2" y2="282.0" stroke="#5858cc" stroke-width="1.3" stroke-dasharray="1.3,1.7" opacity="0.8"/><ellipse cx="113.20" cy="261.60" rx="4.50" ry="9.00" fill="#d4d4f3"/><ellipse cx="113.20" cy="261.60" rx="4.50" ry="9.00" fill="none" stroke="#5454c8" stroke-width="0.45" opacity="0.75"/><ellipse cx="113.20" cy="261.60" rx="3.87" ry="7.74" fill="none" stroke="#5454c8" stroke-width="0.45" opacity="0.75"/><ellipse cx="113.20" cy="261.60" rx="3.24" ry="6.48" fill="none" stroke="#5454c8" stroke-width="0.45" opacity="0.75"/><ellipse cx="113.20" cy="261.60" rx="2.61" ry="5.22" fill="none" stroke="#5454c8" stroke-width="0.45" opacity="0.75"/><ellipse cx="113.20" cy="261.60" rx="2.70" ry="5.00" fill="#5f6cec"/><ellipse cx="113.20" cy="261.60" rx="1.40" ry="3.00" fill="#5a88f6"/><ellipse cx="113.20" cy="261.60" rx="0.55" ry="1.60" fill="#b4d0ff"/><ellipse cx="113.20" cy="324.00" rx="4.60" ry="14.00" fill="#2c36f2"/><ellipse cx="113.20" cy="324.00" rx="3.77" ry="12.32" fill="#2a7af8"/><ellipse cx="113.20" cy="324.00" rx="3.13" ry="10.92" fill="#22cdf0"/><ellipse cx="113.20" cy="324.00" rx="2.48" ry="9.24" fill="#5ad04a"/><ellipse cx="113.20" cy="324.00" rx="1.75" ry="7.00" fill="#f0ea22"/><path d="M125.10,273.00 C125.10,271.50 129.10,271.50 129.10,273.00 L129.30,288.08 C129.90,297.91 132.39,303.80 132.39,312.18 C132.39,336.12 130.01,347.00 127.10,347.00 C124.19,347.00 121.81,336.12 121.81,312.18 C121.81,303.80 124.30,297.91 124.90,288.08 Z" fill="#dedef5"/><path d="M125.10,273.00 C125.10,271.50 129.10,271.50 129.10,273.00 L129.30,288.08 C129.90,297.91 132.39,303.80 132.39,312.18 C132.39,336.12 130.01,347.00 127.10,347.00 C124.19,347.00 121.81,336.12 121.81,312.18 C121.81,303.80 124.30,297.91 124.90,288.08 Z" fill="none" stroke="#4c4cc4" stroke-width="0.48" opacity="0.8"/><path d="M125.30,275.39 C125.30,273.89 128.90,273.89 128.90,275.39 L129.08,289.94 C129.62,299.44 131.86,305.14 131.86,312.94 C131.86,334.49 129.72,344.28 127.10,344.28 C124.48,344.28 122.34,334.49 122.34,312.94 C122.34,305.14 124.58,299.44 125.12,289.94 Z" fill="none" stroke="#4c4cc4" stroke-width="0.48" opacity="0.65"/><path d="M125.50,277.78 C125.50,276.28 128.70,276.28 128.70,277.78 L128.86,291.80 C129.34,300.97 131.33,306.48 131.33,313.70 C131.33,332.86 129.43,341.56 127.10,341.56 C124.77,341.56 122.87,332.86 122.87,313.70 C122.87,306.48 124.86,300.97 125.34,291.80 Z" fill="none" stroke="#4c4cc4" stroke-width="0.48" opacity="0.6"/><path d="M125.70,280.17 C125.70,278.67 128.50,278.67 128.50,280.17 L128.64,293.65 C129.06,302.50 130.80,307.81 130.80,314.47 C130.80,331.22 129.14,338.84 127.10,338.84 C125.06,338.84 123.40,331.22 123.40,314.47 C123.40,307.81 125.14,302.50 125.56,293.65 Z" fill="none" stroke="#4c4cc4" stroke-width="0.48" opacity="0.55"/><line x1="127.1" y1="268.3" x2="127.1" y2="274.0" stroke="#5858cc" stroke-width="1.3" stroke-dasharray="1.3,1.7" opacity="0.8"/><ellipse cx="127.10" cy="259.80" rx="4.50" ry="9.00" fill="#d4d4f3"/><ellipse cx="127.10" cy="259.80" rx="4.50" ry="9.00" fill="none" stroke="#5454c8" stroke-width="0.45" opacity="0.75"/><ellipse cx="127.10" cy="259.80" rx="3.87" ry="7.74" fill="none" stroke="#5454c8" stroke-width="0.45" opacity="0.75"/><ellipse cx="127.10" cy="259.80" rx="3.24" ry="6.48" fill="none" stroke="#5454c8" stroke-width="0.45" opacity="0.75"/><ellipse cx="127.10" cy="259.80" rx="2.61" ry="5.22" fill="none" stroke="#5454c8" stroke-width="0.45" opacity="0.75"/><ellipse cx="127.10" cy="259.80" rx="2.70" ry="5.00" fill="#5f6cec"/><ellipse cx="127.10" cy="259.80" rx="1.40" ry="3.00" fill="#5a88f6"/><ellipse cx="127.10" cy="259.80" rx="0.55" ry="1.60" fill="#b4d0ff"/><ellipse cx="127.10" cy="319.80" rx="4.60" ry="12.70" fill="#2c36f2"/><ellipse cx="127.10" cy="319.80" rx="3.77" ry="11.18" fill="#2a7af8"/><ellipse cx="127.10" cy="319.80" rx="3.13" ry="9.91" fill="#22cdf0"/><ellipse cx="127.10" cy="319.80" rx="2.48" ry="8.38" fill="#5ad04a"/><ellipse cx="127.10" cy="319.80" rx="1.75" ry="6.35" fill="#f0ea22"/></g><rect x="120.8" y="243.2" width="13.9" height="105.4" fill="#b8c8bc" fill-opacity="0.22" stroke="#124a1a" stroke-width="2"/><path d="M186.1,242.4 L186.1,350.1 L290,350.1" fill="none" stroke="#999999" stroke-width="1.0"/><rect x="274.9" y="242.9" width="13.9" height="106.3" fill="#e0e9e2"/><g filter="url(#bl)"><path d="M198.10,307.00 C198.10,305.50 202.10,305.50 202.10,307.00 L202.30,311.03 C202.90,314.10 205.85,315.95 205.85,321.90 C205.85,339.60 203.26,346.00 200.10,346.00 C196.94,346.00 194.35,339.60 194.35,321.90 C194.35,315.95 197.30,314.10 197.90,311.03 Z" fill="#dedef5"/><path d="M198.10,307.00 C198.10,305.50 202.10,305.50 202.10,307.00 L202.30,311.03 C202.90,314.10 205.85,315.95 205.85,321.90 C205.85,339.60 203.26,346.00 200.10,346.00 C196.94,346.00 194.35,339.60 194.35,321.90 C194.35,315.95 197.30,314.10 197.90,311.03 Z" fill="none" stroke="#4c4cc4" stroke-width="0.48" opacity="0.8"/><path d="M198.30,308.20 C198.30,306.70 201.90,306.70 201.90,308.20 L202.08,312.27 C202.62,315.36 205.28,317.22 205.28,322.71 C205.28,338.64 202.95,344.40 200.10,344.40 C197.25,344.40 194.92,338.64 194.92,322.71 C194.92,317.22 197.58,315.36 198.12,312.27 Z" fill="none" stroke="#4c4cc4" stroke-width="0.48" opacity="0.65"/><path d="M198.50,309.40 C198.50,307.90 201.70,307.90 201.70,309.40 L201.86,313.50 C202.34,316.62 204.70,318.49 204.70,323.52 C204.70,337.68 202.63,342.80 200.10,342.80 C197.57,342.80 195.50,337.68 195.50,323.52 C195.50,318.49 197.86,316.62 198.34,313.50 Z" fill="none" stroke="#4c4cc4" stroke-width="0.48" opacity="0.6"/><path d="M198.70,310.60 C198.70,309.10 201.50,309.10 201.50,310.60 L201.64,314.74 C202.06,317.88 204.12,319.77 204.12,324.33 C204.12,336.72 202.31,341.20 200.10,341.20 C197.89,341.20 196.07,336.72 196.07,324.33 C196.07,319.77 198.14,317.88 198.56,314.74 Z" fill="none" stroke="#4c4cc4" stroke-width="0.48" opacity="0.55"/><line x1="200.1" y1="290.0" x2="200.1" y2="308.0" stroke="#5858cc" stroke-width="1.3" stroke-dasharray="1.3,1.7" opacity="0.8"/><ellipse cx="200.10" cy="281.50" rx="4.50" ry="9.00" fill="#d4d4f3"/><ellipse cx="200.10" cy="281.50" rx="4.50" ry="9.00" fill="none" stroke="#5454c8" stroke-width="0.45" opacity="0.75"/><ellipse cx="200.10" cy="281.50" rx="3.87" ry="7.74" fill="none" stroke="#5454c8" stroke-width="0.45" opacity="0.75"/><ellipse cx="200.10" cy="281.50" rx="3.24" ry="6.48" fill="none" stroke="#5454c8" stroke-width="0.45" opacity="0.75"/><ellipse cx="200.10" cy="281.50" rx="2.61" ry="5.22" fill="none" stroke="#5454c8" stroke-width="0.45" opacity="0.75"/><ellipse cx="200.10" cy="281.50" rx="2.70" ry="5.00" fill="#5f6cec"/><ellipse cx="200.10" cy="281.50" rx="1.40" ry="3.00" fill="#5a88f6"/><ellipse cx="200.10" cy="281.50" rx="0.55" ry="1.60" fill="#b4d0ff"/><ellipse cx="200.10" cy="330.00" rx="5.00" ry="13.50" fill="#2c36f2"/><ellipse cx="200.10" cy="330.00" rx="4.30" ry="12.42" fill="#2a7af8"/><ellipse cx="200.10" cy="330.00" rx="3.60" ry="11.34" fill="#22cdf0"/><ellipse cx="200.10" cy="330.00" rx="3.00" ry="10.12" fill="#5ad04a"/><ellipse cx="200.10" cy="330.00" rx="2.40" ry="8.78" fill="#f0ea22"/><ellipse cx="200.10" cy="330.00" rx="1.70" ry="6.75" fill="#f8901a"/><ellipse cx="200.10" cy="330.00" rx="0.95" ry="4.32" fill="#ee3a18"/><path d="M211.40,305.00 C211.40,303.50 215.40,303.50 215.40,305.00 L215.60,309.93 C216.20,313.55 219.15,315.73 219.15,321.90 C219.15,339.60 216.56,346.00 213.40,346.00 C210.24,346.00 207.65,339.60 207.65,321.90 C207.65,315.73 210.60,313.55 211.20,309.93 Z" fill="#dedef5"/><path d="M211.40,305.00 C211.40,303.50 215.40,303.50 215.40,305.00 L215.60,309.93 C216.20,313.55 219.15,315.73 219.15,321.90 C219.15,339.60 216.56,346.00 213.40,346.00 C210.24,346.00 207.65,339.60 207.65,321.90 C207.65,315.73 210.60,313.55 211.20,309.93 Z" fill="none" stroke="#4c4cc4" stroke-width="0.48" opacity="0.8"/><path d="M211.60,306.30 C211.60,304.80 215.20,304.80 215.20,306.30 L215.38,311.22 C215.92,314.84 218.58,317.01 218.58,322.71 C218.58,338.64 216.25,344.40 213.40,344.40 C210.55,344.40 208.22,338.64 208.22,322.71 C208.22,317.01 210.88,314.84 211.42,311.22 Z" fill="none" stroke="#4c4cc4" stroke-width="0.48" opacity="0.65"/><path d="M211.80,307.60 C211.80,306.10 215.00,306.10 215.00,307.60 L215.16,312.51 C215.64,316.13 218.00,318.29 218.00,323.52 C218.00,337.68 215.93,342.80 213.40,342.80 C210.87,342.80 208.80,337.68 208.80,323.52 C208.80,318.29 211.16,316.13 211.64,312.51 Z" fill="none" stroke="#4c4cc4" stroke-width="0.48" opacity="0.6"/><path d="M212.00,308.90 C212.00,307.40 214.80,307.40 214.80,308.90 L214.94,313.81 C215.36,317.41 217.43,319.58 217.43,324.33 C217.43,336.72 215.61,341.20 213.40,341.20 C211.19,341.20 209.38,336.72 209.38,324.33 C209.38,319.58 211.44,317.41 211.86,313.81 Z" fill="none" stroke="#4c4cc4" stroke-width="0.48" opacity="0.55"/><line x1="213.4" y1="286.5" x2="213.4" y2="306.0" stroke="#5858cc" stroke-width="1.3" stroke-dasharray="1.3,1.7" opacity="0.8"/><ellipse cx="213.40" cy="278.00" rx="4.50" ry="9.00" fill="#d4d4f3"/><ellipse cx="213.40" cy="278.00" rx="4.50" ry="9.00" fill="none" stroke="#5454c8" stroke-width="0.45" opacity="0.75"/><ellipse cx="213.40" cy="278.00" rx="3.87" ry="7.74" fill="none" stroke="#5454c8" stroke-width="0.45" opacity="0.75"/><ellipse cx="213.40" cy="278.00" rx="3.24" ry="6.48" fill="none" stroke="#5454c8" stroke-width="0.45" opacity="0.75"/><ellipse cx="213.40" cy="278.00" rx="2.61" ry="5.22" fill="none" stroke="#5454c8" stroke-width="0.45" opacity="0.75"/><ellipse cx="213.40" cy="278.00" rx="2.70" ry="5.00" fill="#5f6cec"/><ellipse cx="213.40" cy="278.00" rx="1.40" ry="3.00" fill="#5a88f6"/><ellipse cx="213.40" cy="278.00" rx="0.55" ry="1.60" fill="#b4d0ff"/><ellipse cx="213.40" cy="330.00" rx="5.00" ry="13.50" fill="#2c36f2"/><ellipse cx="213.40" cy="330.00" rx="4.30" ry="12.42" fill="#2a7af8"/><ellipse cx="213.40" cy="330.00" rx="3.60" ry="11.34" fill="#22cdf0"/><ellipse cx="213.40" cy="330.00" rx="3.00" ry="10.12" fill="#5ad04a"/><ellipse cx="213.40" cy="330.00" rx="2.40" ry="8.78" fill="#f0ea22"/><ellipse cx="213.40" cy="330.00" rx="1.70" ry="6.75" fill="#f8901a"/><ellipse cx="213.40" cy="330.00" rx="0.95" ry="4.32" fill="#ee3a18"/><path d="M225.00,301.00 C225.00,299.50 229.00,299.50 229.00,301.00 L229.20,307.73 C229.80,312.45 232.75,315.29 232.75,321.90 C232.75,339.60 230.16,346.00 227.00,346.00 C223.84,346.00 221.25,339.60 221.25,321.90 C221.25,315.29 224.20,312.45 224.80,307.73 Z" fill="#dedef5"/><path d="M225.00,301.00 C225.00,299.50 229.00,299.50 229.00,301.00 L229.20,307.73 C229.80,312.45 232.75,315.29 232.75,321.90 C232.75,339.60 230.16,346.00 227.00,346.00 C223.84,346.00 221.25,339.60 221.25,321.90 C221.25,315.29 224.20,312.45 224.80,307.73 Z" fill="none" stroke="#4c4cc4" stroke-width="0.48" opacity="0.8"/><path d="M225.20,302.50 C225.20,301.00 228.80,301.00 228.80,302.50 L228.98,309.13 C229.52,313.79 232.18,316.59 232.18,322.71 C232.18,338.64 229.85,344.40 227.00,344.40 C224.15,344.40 221.82,338.64 221.82,322.71 C221.82,316.59 224.48,313.79 225.02,309.13 Z" fill="none" stroke="#4c4cc4" stroke-width="0.48" opacity="0.65"/><path d="M225.40,304.00 C225.40,302.50 228.60,302.50 228.60,304.00 L228.76,310.53 C229.24,315.14 231.60,317.90 231.60,323.52 C231.60,337.68 229.53,342.80 227.00,342.80 C224.47,342.80 222.40,337.68 222.40,323.52 C222.40,317.90 224.76,315.14 225.24,310.53 Z" fill="none" stroke="#4c4cc4" stroke-width="0.48" opacity="0.6"/><path d="M225.60,305.50 C225.60,304.00 228.40,304.00 228.40,305.50 L228.54,311.94 C228.96,316.48 231.03,319.21 231.03,324.33 C231.03,336.72 229.21,341.20 227.00,341.20 C224.79,341.20 222.97,336.72 222.97,324.33 C222.97,319.21 225.04,316.48 225.46,311.94 Z" fill="none" stroke="#4c4cc4" stroke-width="0.48" opacity="0.55"/><line x1="227.0" y1="280.5" x2="227.0" y2="302.0" stroke="#5858cc" stroke-width="1.3" stroke-dasharray="1.3,1.7" opacity="0.8"/><ellipse cx="227.00" cy="272.00" rx="4.50" ry="9.00" fill="#d4d4f3"/><ellipse cx="227.00" cy="272.00" rx="4.50" ry="9.00" fill="none" stroke="#5454c8" stroke-width="0.45" opacity="0.75"/><ellipse cx="227.00" cy="272.00" rx="3.87" ry="7.74" fill="none" stroke="#5454c8" stroke-width="0.45" opacity="0.75"/><ellipse cx="227.00" cy="272.00" rx="3.24" ry="6.48" fill="none" stroke="#5454c8" stroke-width="0.45" opacity="0.75"/><ellipse cx="227.00" cy="272.00" rx="2.61" ry="5.22" fill="none" stroke="#5454c8" stroke-width="0.45" opacity="0.75"/><ellipse cx="227.00" cy="272.00" rx="2.70" ry="5.00" fill="#5f6cec"/><ellipse cx="227.00" cy="272.00" rx="1.40" ry="3.00" fill="#5a88f6"/><ellipse cx="227.00" cy="272.00" rx="0.55" ry="1.60" fill="#b4d0ff"/><ellipse cx="227.00" cy="330.00" rx="5.00" ry="13.50" fill="#2c36f2"/><ellipse cx="227.00" cy="330.00" rx="4.30" ry="12.42" fill="#2a7af8"/><ellipse cx="227.00" cy="330.00" rx="3.60" ry="11.34" fill="#22cdf0"/><ellipse cx="227.00" cy="330.00" rx="3.00" ry="10.12" fill="#5ad04a"/><ellipse cx="227.00" cy="330.00" rx="2.40" ry="8.78" fill="#f0ea22"/><ellipse cx="227.00" cy="330.00" rx="1.70" ry="6.75" fill="#f8901a"/><ellipse cx="227.00" cy="330.00" rx="0.95" ry="4.32" fill="#ee3a18"/><path d="M238.70,297.00 C238.70,295.50 242.70,295.50 242.70,297.00 L242.90,305.30 C243.50,310.99 246.33,314.40 246.33,321.40 C246.33,339.40 243.80,346.00 240.70,346.00 C237.60,346.00 235.06,339.40 235.06,321.40 C235.06,314.40 237.90,310.99 238.50,305.30 Z" fill="#dedef5"/><path d="M238.70,297.00 C238.70,295.50 242.70,295.50 242.70,297.00 L242.90,305.30 C243.50,310.99 246.33,314.40 246.33,321.40 C246.33,339.40 243.80,346.00 240.70,346.00 C237.60,346.00 235.06,339.40 235.06,321.40 C235.06,314.40 237.90,310.99 238.50,305.30 Z" fill="none" stroke="#4c4cc4" stroke-width="0.48" opacity="0.8"/><path d="M238.90,298.68 C238.90,297.18 242.50,297.18 242.50,298.68 L242.68,306.80 C243.22,312.38 245.77,315.73 245.77,322.21 C245.77,338.41 243.49,344.35 240.70,344.35 C237.91,344.35 235.63,338.41 235.63,322.21 C235.63,315.73 238.18,312.38 238.72,306.80 Z" fill="none" stroke="#4c4cc4" stroke-width="0.48" opacity="0.65"/><path d="M239.10,300.35 C239.10,298.85 242.30,298.85 242.30,300.35 L242.46,308.30 C242.94,313.77 245.21,317.05 245.21,323.02 C245.21,337.42 243.18,342.70 240.70,342.70 C238.22,342.70 236.19,337.42 236.19,323.02 C236.19,317.05 238.46,313.77 238.94,308.30 Z" fill="none" stroke="#4c4cc4" stroke-width="0.48" opacity="0.6"/><path d="M239.30,302.02 C239.30,300.52 242.10,300.52 242.10,302.02 L242.24,309.80 C242.66,315.16 244.64,318.38 244.64,323.83 C244.64,336.43 242.87,341.05 240.70,341.05 C238.53,341.05 236.76,336.43 236.76,323.83 C236.76,318.38 238.74,315.16 239.16,309.80 Z" fill="none" stroke="#4c4cc4" stroke-width="0.48" opacity="0.55"/><line x1="240.7" y1="276.5" x2="240.7" y2="298.0" stroke="#5858cc" stroke-width="1.3" stroke-dasharray="1.3,1.7" opacity="0.8"/><ellipse cx="240.70" cy="268.00" rx="4.50" ry="9.00" fill="#d4d4f3"/><ellipse cx="240.70" cy="268.00" rx="4.50" ry="9.00" fill="none" stroke="#5454c8" stroke-width="0.45" opacity="0.75"/><ellipse cx="240.70" cy="268.00" rx="3.87" ry="7.74" fill="none" stroke="#5454c8" stroke-width="0.45" opacity="0.75"/><ellipse cx="240.70" cy="268.00" rx="3.24" ry="6.48" fill="none" stroke="#5454c8" stroke-width="0.45" opacity="0.75"/><ellipse cx="240.70" cy="268.00" rx="2.61" ry="5.22" fill="none" stroke="#5454c8" stroke-width="0.45" opacity="0.75"/><ellipse cx="240.70" cy="268.00" rx="2.70" ry="5.00" fill="#5f6cec"/><ellipse cx="240.70" cy="268.00" rx="1.40" ry="3.00" fill="#5a88f6"/><ellipse cx="240.70" cy="268.00" rx="0.55" ry="1.60" fill="#b4d0ff"/><ellipse cx="240.70" cy="329.50" rx="4.90" ry="13.50" fill="#2c36f2"/><ellipse cx="240.70" cy="329.50" rx="4.21" ry="12.42" fill="#2a7af8"/><ellipse cx="240.70" cy="329.50" rx="3.53" ry="11.34" fill="#22cdf0"/><ellipse cx="240.70" cy="329.50" rx="2.94" ry="10.12" fill="#5ad04a"/><ellipse cx="240.70" cy="329.50" rx="2.35" ry="8.78" fill="#f0ea22"/><ellipse cx="240.70" cy="329.50" rx="1.67" ry="6.75" fill="#f8901a"/><ellipse cx="240.70" cy="329.50" rx="0.93" ry="4.32" fill="#ee3a18"/><path d="M251.90,285.00 C251.90,283.50 255.90,283.50 255.90,285.00 L256.10,297.69 C256.70,306.06 259.31,311.08 259.31,318.80 C259.31,337.52 256.87,345.00 253.90,345.00 C250.93,345.00 248.50,337.52 248.50,318.80 C248.50,311.08 251.10,306.06 251.70,297.69 Z" fill="#dedef5"/><path d="M251.90,285.00 C251.90,283.50 255.90,283.50 255.90,285.00 L256.10,297.69 C256.70,306.06 259.31,311.08 259.31,318.80 C259.31,337.52 256.87,345.00 253.90,345.00 C250.93,345.00 248.50,337.52 248.50,318.80 C248.50,311.08 251.10,306.06 251.70,297.69 Z" fill="none" stroke="#4c4cc4" stroke-width="0.48" opacity="0.8"/><path d="M252.10,287.12 C252.10,285.62 255.70,285.62 255.70,287.12 L255.88,299.39 C256.42,307.50 258.76,312.37 258.76,319.55 C258.76,336.40 256.58,343.13 253.90,343.13 C251.22,343.13 249.04,336.40 249.04,319.55 C249.04,312.37 251.38,307.50 251.92,299.39 Z" fill="none" stroke="#4c4cc4" stroke-width="0.48" opacity="0.65"/><path d="M252.30,289.23 C252.30,287.73 255.50,287.73 255.50,289.23 L255.66,301.09 C256.14,308.94 258.22,313.66 258.22,320.30 C258.22,335.28 256.28,341.26 253.90,341.26 C251.52,341.26 249.58,335.28 249.58,320.30 C249.58,313.66 251.66,308.94 252.14,301.09 Z" fill="none" stroke="#4c4cc4" stroke-width="0.48" opacity="0.6"/><path d="M252.50,291.35 C252.50,289.85 255.30,289.85 255.30,291.35 L255.44,302.78 C255.86,310.39 257.68,314.95 257.68,321.05 C257.68,334.15 255.98,339.39 253.90,339.39 C251.82,339.39 250.12,334.15 250.12,321.05 C250.12,314.95 251.94,310.39 252.36,302.78 Z" fill="none" stroke="#4c4cc4" stroke-width="0.48" opacity="0.55"/><line x1="253.9" y1="272.5" x2="253.9" y2="286.0" stroke="#5858cc" stroke-width="1.3" stroke-dasharray="1.3,1.7" opacity="0.8"/><ellipse cx="253.90" cy="264.00" rx="4.50" ry="9.00" fill="#d4d4f3"/><ellipse cx="253.90" cy="264.00" rx="4.50" ry="9.00" fill="none" stroke="#5454c8" stroke-width="0.45" opacity="0.75"/><ellipse cx="253.90" cy="264.00" rx="3.87" ry="7.74" fill="none" stroke="#5454c8" stroke-width="0.45" opacity="0.75"/><ellipse cx="253.90" cy="264.00" rx="3.24" ry="6.48" fill="none" stroke="#5454c8" stroke-width="0.45" opacity="0.75"/><ellipse cx="253.90" cy="264.00" rx="2.61" ry="5.22" fill="none" stroke="#5454c8" stroke-width="0.45" opacity="0.75"/><ellipse cx="253.90" cy="264.00" rx="2.70" ry="5.00" fill="#5f6cec"/><ellipse cx="253.90" cy="264.00" rx="1.40" ry="3.00" fill="#5a88f6"/><ellipse cx="253.90" cy="264.00" rx="0.55" ry="1.60" fill="#b4d0ff"/><ellipse cx="253.90" cy="326.30" rx="4.70" ry="12.50" fill="#2c36f2"/><ellipse cx="253.90" cy="326.30" rx="3.95" ry="11.25" fill="#2a7af8"/><ellipse cx="253.90" cy="326.30" rx="3.29" ry="10.25" fill="#22cdf0"/><ellipse cx="253.90" cy="326.30" rx="2.68" ry="9.00" fill="#5ad04a"/><ellipse cx="253.90" cy="326.30" rx="2.12" ry="7.50" fill="#f0ea22"/><ellipse cx="253.90" cy="326.30" rx="1.32" ry="5.00" fill="#f8901a"/><path d="M265.80,277.00 C265.80,275.50 269.80,275.50 269.80,277.00 L270.00,292.12 C270.60,301.97 273.44,307.88 273.44,316.20 C273.44,336.48 270.90,345.00 267.80,345.00 C264.70,345.00 262.17,336.48 262.17,316.20 C262.17,307.88 265.00,301.97 265.60,292.12 Z" fill="#dedef5"/><path d="M265.80,277.00 C265.80,275.50 269.80,275.50 269.80,277.00 L270.00,292.12 C270.60,301.97 273.44,307.88 273.44,316.20 C273.44,336.48 270.90,345.00 267.80,345.00 C264.70,345.00 262.17,336.48 262.17,316.20 C262.17,307.88 265.00,301.97 265.60,292.12 Z" fill="none" stroke="#4c4cc4" stroke-width="0.48" opacity="0.8"/><path d="M266.00,279.38 C266.00,277.88 269.60,277.88 269.60,279.38 L269.78,293.97 C270.32,303.49 272.87,309.20 272.87,316.95 C272.87,335.20 270.59,342.87 267.80,342.87 C265.01,342.87 262.73,335.20 262.73,316.95 C262.73,309.20 265.28,303.49 265.82,293.97 Z" fill="none" stroke="#4c4cc4" stroke-width="0.48" opacity="0.65"/><path d="M266.20,281.77 C266.20,280.27 269.40,280.27 269.40,281.77 L269.56,295.81 C270.04,305.01 272.31,310.52 272.31,317.70 C272.31,333.92 270.28,340.74 267.80,340.74 C265.32,340.74 263.29,333.92 263.29,317.70 C263.29,310.52 265.56,305.01 266.04,295.81 Z" fill="none" stroke="#4c4cc4" stroke-width="0.48" opacity="0.6"/><path d="M266.40,284.15 C266.40,282.65 269.20,282.65 269.20,284.15 L269.34,297.66 C269.76,306.52 271.74,311.84 271.74,318.45 C271.74,332.65 269.97,338.61 267.80,338.61 C265.63,338.61 263.86,332.65 263.86,318.45 C263.86,311.84 265.84,306.52 266.26,297.66 Z" fill="none" stroke="#4c4cc4" stroke-width="0.48" opacity="0.55"/><line x1="267.8" y1="270.3" x2="267.8" y2="278.0" stroke="#5858cc" stroke-width="1.3" stroke-dasharray="1.3,1.7" opacity="0.8"/><ellipse cx="267.80" cy="261.80" rx="4.50" ry="9.00" fill="#d4d4f3"/><ellipse cx="267.80" cy="261.80" rx="4.50" ry="9.00" fill="none" stroke="#5454c8" stroke-width="0.45" opacity="0.75"/><ellipse cx="267.80" cy="261.80" rx="3.87" ry="7.74" fill="none" stroke="#5454c8" stroke-width="0.45" opacity="0.75"/><ellipse cx="267.80" cy="261.80" rx="3.24" ry="6.48" fill="none" stroke="#5454c8" stroke-width="0.45" opacity="0.75"/><ellipse cx="267.80" cy="261.80" rx="2.61" ry="5.22" fill="none" stroke="#5454c8" stroke-width="0.45" opacity="0.75"/><ellipse cx="267.80" cy="261.80" rx="2.70" ry="5.00" fill="#5f6cec"/><ellipse cx="267.80" cy="261.80" rx="1.40" ry="3.00" fill="#5a88f6"/><ellipse cx="267.80" cy="261.80" rx="0.55" ry="1.60" fill="#b4d0ff"/><ellipse cx="267.80" cy="323.70" rx="4.90" ry="12.50" fill="#2c36f2"/><ellipse cx="267.80" cy="323.70" rx="4.02" ry="11.00" fill="#2a7af8"/><ellipse cx="267.80" cy="323.70" rx="3.33" ry="9.75" fill="#22cdf0"/><ellipse cx="267.80" cy="323.70" rx="2.65" ry="8.25" fill="#5ad04a"/><ellipse cx="267.80" cy="323.70" rx="1.86" ry="6.25" fill="#f0ea22"/><path d="M278.80,271.00 C278.80,269.50 282.80,269.50 282.80,271.00 L283.00,287.85 C283.60,298.76 286.09,305.31 286.09,313.70 C286.09,335.84 283.71,346.00 280.80,346.00 C277.89,346.00 275.51,335.84 275.51,313.70 C275.51,305.31 278.00,298.76 278.60,287.85 Z" fill="#dedef5"/><path d="M278.80,271.00 C278.80,269.50 282.80,269.50 282.80,271.00 L283.00,287.85 C283.60,298.76 286.09,305.31 286.09,313.70 C286.09,335.84 283.71,346.00 280.80,346.00 C277.89,346.00 275.51,335.84 275.51,313.70 C275.51,305.31 278.00,298.76 278.60,287.85 Z" fill="none" stroke="#4c4cc4" stroke-width="0.48" opacity="0.8"/><path d="M279.00,273.53 C279.00,272.03 282.60,272.03 282.60,273.53 L282.78,289.74 C283.32,300.25 285.56,306.56 285.56,314.39 C285.56,334.32 283.42,343.46 280.80,343.46 C278.18,343.46 276.04,334.32 276.04,314.39 C276.04,306.56 278.28,300.25 278.82,289.74 Z" fill="none" stroke="#4c4cc4" stroke-width="0.48" opacity="0.65"/><path d="M279.20,276.06 C279.20,274.56 282.40,274.56 282.40,276.06 L282.56,291.62 C283.04,301.74 285.03,307.81 285.03,315.08 C285.03,332.79 283.13,340.92 280.80,340.92 C278.47,340.92 276.57,332.79 276.57,315.08 C276.57,307.81 278.56,301.74 279.04,291.62 Z" fill="none" stroke="#4c4cc4" stroke-width="0.48" opacity="0.6"/><path d="M279.40,278.59 C279.40,277.09 282.20,277.09 282.20,278.59 L282.34,293.50 C282.76,303.23 284.50,309.06 284.50,315.77 C284.50,331.27 282.84,338.38 280.80,338.38 C278.76,338.38 277.10,331.27 277.10,315.77 C277.10,309.06 278.84,303.23 279.26,293.50 Z" fill="none" stroke="#4c4cc4" stroke-width="0.48" opacity="0.55"/><line x1="280.8" y1="266.1" x2="280.8" y2="272.0" stroke="#5858cc" stroke-width="1.3" stroke-dasharray="1.3,1.7" opacity="0.8"/><ellipse cx="280.80" cy="257.60" rx="4.50" ry="9.00" fill="#d4d4f3"/><ellipse cx="280.80" cy="257.60" rx="4.50" ry="9.00" fill="none" stroke="#5454c8" stroke-width="0.45" opacity="0.75"/><ellipse cx="280.80" cy="257.60" rx="3.87" ry="7.74" fill="none" stroke="#5454c8" stroke-width="0.45" opacity="0.75"/><ellipse cx="280.80" cy="257.60" rx="3.24" ry="6.48" fill="none" stroke="#5454c8" stroke-width="0.45" opacity="0.75"/><ellipse cx="280.80" cy="257.60" rx="2.61" ry="5.22" fill="none" stroke="#5454c8" stroke-width="0.45" opacity="0.75"/><ellipse cx="280.80" cy="257.60" rx="2.70" ry="5.00" fill="#5f6cec"/><ellipse cx="280.80" cy="257.60" rx="1.40" ry="3.00" fill="#5a88f6"/><ellipse cx="280.80" cy="257.60" rx="0.55" ry="1.60" fill="#b4d0ff"/><ellipse cx="280.80" cy="320.60" rx="4.60" ry="11.50" fill="#2c36f2"/><ellipse cx="280.80" cy="320.60" rx="3.77" ry="10.12" fill="#2a7af8"/><ellipse cx="280.80" cy="320.60" rx="3.13" ry="8.97" fill="#22cdf0"/><ellipse cx="280.80" cy="320.60" rx="2.48" ry="7.59" fill="#5ad04a"/><ellipse cx="280.80" cy="320.60" rx="1.75" ry="5.75" fill="#f0ea22"/></g><rect x="275.0" y="243.0" width="13.7" height="106.1" fill="#b8c8bc" fill-opacity="0.22" stroke="#124a1a" stroke-width="2"/><text x="30.4" y="32.9" font-size="3.9" fill="#7a7a7a" text-anchor="end" font-family='"Liberation Sans", sans-serif'>10</text><text x="30.5" y="31.3" font-size="2.6" fill="#7a7a7a" font-family='"Liberation Sans", sans-serif'>5</text><text x="30.4" y="53.2" font-size="3.9" fill="#7a7a7a" text-anchor="end" font-family='"Liberation Sans", sans-serif'>10</text><text x="30.5" y="51.6" font-size="2.6" fill="#7a7a7a" font-family='"Liberation Sans", sans-serif'>4</text><text x="30.4" y="76.7" font-size="3.9" fill="#7a7a7a" text-anchor="end" font-family='"Liberation Sans", sans-serif'>10</text><text x="30.5" y="75.1" font-size="2.6" fill="#7a7a7a" font-family='"Liberation Sans", sans-serif'>3</text><text x="30.4" y="99.9" font-size="3.9" fill="#7a7a7a" text-anchor="end" font-family='"Liberation Sans", sans-serif'>10</text><text x="30.5" y="98.3" font-size="2.6" fill="#7a7a7a" font-family='"Liberation Sans", sans-serif'>2</text><text x="30.4" y="109.8" font-size="3.9" fill="#7a7a7a" text-anchor="end" font-family='"Liberation Sans", sans-serif'>-10</text><text x="30.5" y="108.2" font-size="2.6" fill="#7a7a7a" font-family='"Liberation Sans", sans-serif'>3</text><text x="185.1" y="29.8" font-size="3.9" fill="#7a7a7a" text-anchor="end" font-family='"Liberation Sans", sans-serif'>10</text><text x="185.2" y="28.2" font-size="2.6" fill="#7a7a7a" font-family='"Liberation Sans", sans-serif'>5</text><text x="185.1" y="40.4" font-size="3.9" fill="#7a7a7a" text-anchor="end" font-family='"Liberation Sans", sans-serif'>10</text><text x="185.2" y="38.8" font-size="2.6" fill="#7a7a7a" font-family='"Liberation Sans", sans-serif'>4</text><text x="185.1" y="60.6" font-size="3.9" fill="#7a7a7a" text-anchor="end" font-family='"Liberation Sans", sans-serif'>10</text><text x="185.2" y="59.0" font-size="2.6" fill="#7a7a7a" font-family='"Liberation Sans", sans-serif'>3</text><text x="185.1" y="88.3" font-size="3.9" fill="#7a7a7a" text-anchor="end" font-family='"Liberation Sans", sans-serif'>10</text><text x="185.2" y="86.7" font-size="2.6" fill="#7a7a7a" font-family='"Liberation Sans", sans-serif'>2</text><text x="185.1" y="97.2" font-size="3.9" fill="#7a7a7a" text-anchor="end" font-family='"Liberation Sans", sans-serif'>-10</text><text x="185.2" y="95.6" font-size="2.6" fill="#7a7a7a" font-family='"Liberation Sans", sans-serif'>3</text><text x="30.4" y="143.2" font-size="3.9" fill="#7a7a7a" text-anchor="end" font-family='"Liberation Sans", sans-serif'>10</text><text x="30.5" y="141.6" font-size="2.6" fill="#7a7a7a" font-family='"Liberation Sans", sans-serif'>5</text><text x="30.4" y="158.2" font-size="3.9" fill="#7a7a7a" text-anchor="end" font-family='"Liberation Sans", sans-serif'>10</text><text x="30.5" y="156.6" font-size="2.6" fill="#7a7a7a" font-family='"Liberation Sans", sans-serif'>4</text><text x="30.4" y="175.6" font-size="3.9" fill="#7a7a7a" text-anchor="end" font-family='"Liberation Sans", sans-serif'>10</text><text x="30.5" y="174.0" font-size="2.6" fill="#7a7a7a" font-family='"Liberation Sans", sans-serif'>3</text><text x="30.4" y="204.6" font-size="3.9" fill="#7a7a7a" text-anchor="end" font-family='"Liberation Sans", sans-serif'>10</text><text x="30.5" y="203.0" font-size="2.6" fill="#7a7a7a" font-family='"Liberation Sans", sans-serif'>2</text><text x="30.4" y="215.1" font-size="3.9" fill="#7a7a7a" text-anchor="end" font-family='"Liberation Sans", sans-serif'>-10</text><text x="30.5" y="213.5" font-size="2.6" fill="#7a7a7a" font-family='"Liberation Sans", sans-serif'>3</text><text x="185.1" y="141.7" font-size="3.9" fill="#7a7a7a" text-anchor="end" font-family='"Liberation Sans", sans-serif'>10</text><text x="185.2" y="140.1" font-size="2.6" fill="#7a7a7a" font-family='"Liberation Sans", sans-serif'>5</text><text x="185.1" y="158.7" font-size="3.9" fill="#7a7a7a" text-anchor="end" font-family='"Liberation Sans", sans-serif'>10</text><text x="185.2" y="157.1" font-size="2.6" fill="#7a7a7a" font-family='"Liberation Sans", sans-serif'>4</text><text x="185.1" y="180.7" font-size="3.9" fill="#7a7a7a" text-anchor="end" font-family='"Liberation Sans", sans-serif'>10</text><text x="185.2" y="179.1" font-size="2.6" fill="#7a7a7a" font-family='"Liberation Sans", sans-serif'>3</text><text x="185.1" y="204.5" font-size="3.9" fill="#7a7a7a" text-anchor="end" font-family='"Liberation Sans", sans-serif'>10</text><text x="185.2" y="202.9" font-size="2.6" fill="#7a7a7a" font-family='"Liberation Sans", sans-serif'>2</text><text x="185.1" y="214.2" font-size="3.9" fill="#7a7a7a" text-anchor="end" font-family='"Liberation Sans", sans-serif'>-10</text><text x="185.2" y="212.6" font-size="2.6" fill="#7a7a7a" font-family='"Liberation Sans", sans-serif'>3</text><text x="27.3" y="257.5" font-size="3.3" fill="#666" text-anchor="middle" transform="rotate(-70 27.3 257.5)" font-family='"Liberation Sans", sans-serif'>10⁵</text><text x="27.3" y="270.5" font-size="3.3" fill="#666" text-anchor="middle" transform="rotate(-70 27.3 270.5)" font-family='"Liberation Sans", sans-serif'>10⁵</text><text x="27.3" y="288.5" font-size="3.3" fill="#666" text-anchor="middle" transform="rotate(-70 27.3 288.5)" font-family='"Liberation Sans", sans-serif'>10⁵</text><text x="27.3" y="311.5" font-size="3.3" fill="#666" text-anchor="middle" transform="rotate(-70 27.3 311.5)" font-family='"Liberation Sans", sans-serif'>10⁵</text><text x="27.3" y="328.5" font-size="3.3" fill="#666" text-anchor="middle" transform="rotate(-70 27.3 328.5)" font-family='"Liberation Sans", sans-serif'>10⁵</text><text x="182.3" y="254.8" font-size="3.3" fill="#666" text-anchor="middle" transform="rotate(-70 182.3 254.8)" font-family='"Liberation Sans", sans-serif'>10⁵</text><text x="182.3" y="267.0" font-size="3.3" fill="#666" text-anchor="middle" transform="rotate(-70 182.3 267.0)" font-family='"Liberation Sans", sans-serif'>10⁵</text><text x="182.3" y="286.5" font-size="3.3" fill="#666" text-anchor="middle" transform="rotate(-70 182.3 286.5)" font-family='"Liberation Sans", sans-serif'>10⁵</text><text x="182.3" y="310.0" font-size="3.3" fill="#666" text-anchor="middle" transform="rotate(-70 182.3 310.0)" font-family='"Liberation Sans", sans-serif'>10⁵</text><text x="182.3" y="327.0" font-size="3.3" fill="#666" text-anchor="middle" transform="rotate(-70 182.3 327.0)" font-family='"Liberation Sans", sans-serif'>10⁵</text><text x="44.9" y="112.6" font-size="5.3" stroke="#444" stroke-width="0.1" fill="#3c3c3c" text-anchor="middle" dominant-baseline="central" transform="rotate(-48 44.9 112.6)" font-family='"Liberation Sans", sans-serif'>16</text><text x="57.4" y="113.0" font-size="5.3" stroke="#444" stroke-width="0.1" fill="#3c3c3c" text-anchor="middle" dominant-baseline="central" transform="rotate(-48 57.4 113.0)" font-family='"Liberation Sans", sans-serif'>32</text><text x="69.6" y="113.0" font-size="5.3" stroke="#444" stroke-width="0.1" fill="#3c3c3c" text-anchor="middle" dominant-baseline="central" transform="rotate(-48 69.6 113.0)" font-family='"Liberation Sans", sans-serif'>64</text><text x="80.8" y="113.5" font-size="5.3" stroke="#444" stroke-width="0.1" fill="#3c3c3c" text-anchor="middle" dominant-baseline="central" transform="rotate(-48 80.8 113.5)" font-family='"Liberation Sans", sans-serif'>125</text><text x="94.1" y="114.0" font-size="5.3" stroke="#444" stroke-width="0.1" fill="#3c3c3c" text-anchor="middle" dominant-baseline="central" transform="rotate(-48 94.1 114.0)" font-family='"Liberation Sans", sans-serif'>250</text><text x="109.1" y="114.0" font-size="5.3" stroke="#444" stroke-width="0.1" fill="#3c3c3c" text-anchor="middle" dominant-baseline="central" transform="rotate(-48 109.1 114.0)" font-family='"Liberation Sans", sans-serif'>500</text><text x="124.0" y="114.7" font-size="5.3" stroke="#444" stroke-width="0.1" fill="#3c3c3c" text-anchor="middle" dominant-baseline="central" transform="rotate(-48 124.0 114.7)" font-family='"Liberation Sans", sans-serif'>1000</text><text x="198.2" y="113.3" font-size="5.3" stroke="#444" stroke-width="0.1" fill="#3c3c3c" text-anchor="middle" dominant-baseline="central" transform="rotate(-48 198.2 113.3)" font-family='"Liberation Sans", sans-serif'>16</text><text x="210.5" y="113.5" font-size="5.3" stroke="#444" stroke-width="0.1" fill="#3c3c3c" text-anchor="middle" dominant-baseline="central" transform="rotate(-48 210.5 113.5)" font-family='"Liberation Sans", sans-serif'>32</text><text x="223.0" y="113.5" font-size="5.3" stroke="#444" stroke-width="0.1" fill="#3c3c3c" text-anchor="middle" dominant-baseline="central" transform="rotate(-48 223.0 113.5)" font-family='"Liberation Sans", sans-serif'>64</text><text x="234.3" y="114.0" font-size="5.3" stroke="#444" stroke-width="0.1" fill="#3c3c3c" text-anchor="middle" dominant-baseline="central" transform="rotate(-48 234.3 114.0)" font-family='"Liberation Sans", sans-serif'>125</text><text x="247.5" y="114.0" font-size="5.3" stroke="#444" stroke-width="0.1" fill="#3c3c3c" text-anchor="middle" dominant-baseline="central" transform="rotate(-48 247.5 114.0)" font-family='"Liberation Sans", sans-serif'>250</text><text x="262.5" y="114.0" font-size="5.3" stroke="#444" stroke-width="0.1" fill="#3c3c3c" text-anchor="middle" dominant-baseline="central" transform="rotate(-48 262.5 114.0)" font-family='"Liberation Sans", sans-serif'>500</text><text x="277.5" y="115.3" font-size="5.3" stroke="#444" stroke-width="0.1" fill="#3c3c3c" text-anchor="middle" dominant-baseline="central" transform="rotate(-48 277.5 115.3)" font-family='"Liberation Sans", sans-serif'>1000</text><text x="44.6" y="228.2" font-size="5.3" stroke="#444" stroke-width="0.1" fill="#3c3c3c" text-anchor="middle" dominant-baseline="central" transform="rotate(-48 44.6 228.2)" font-family='"Liberation Sans", sans-serif'>16</text><text x="56.7" y="228.2" font-size="5.3" stroke="#444" stroke-width="0.1" fill="#3c3c3c" text-anchor="middle" dominant-baseline="central" transform="rotate(-48 56.7 228.2)" font-family='"Liberation Sans", sans-serif'>32</text><text x="69.4" y="228.7" font-size="5.3" stroke="#444" stroke-width="0.1" fill="#3c3c3c" text-anchor="middle" dominant-baseline="central" transform="rotate(-48 69.4 228.7)" font-family='"Liberation Sans", sans-serif'>64</text><text x="80.8" y="229.3" font-size="5.3" stroke="#444" stroke-width="0.1" fill="#3c3c3c" text-anchor="middle" dominant-baseline="central" transform="rotate(-48 80.8 229.3)" font-family='"Liberation Sans", sans-serif'>125</text><text x="93.8" y="229.6" font-size="5.3" stroke="#444" stroke-width="0.1" fill="#3c3c3c" text-anchor="middle" dominant-baseline="central" transform="rotate(-48 93.8 229.6)" font-family='"Liberation Sans", sans-serif'>250</text><text x="108.8" y="229.3" font-size="5.3" stroke="#444" stroke-width="0.1" fill="#3c3c3c" text-anchor="middle" dominant-baseline="central" transform="rotate(-48 108.8 229.3)" font-family='"Liberation Sans", sans-serif'>500</text><text x="123.5" y="230.2" font-size="5.3" stroke="#444" stroke-width="0.1" fill="#3c3c3c" text-anchor="middle" dominant-baseline="central" transform="rotate(-48 123.5 230.2)" font-family='"Liberation Sans", sans-serif'>1000</text><text x="198.6" y="228.9" font-size="5.3" stroke="#444" stroke-width="0.1" fill="#3c3c3c" text-anchor="middle" dominant-baseline="central" transform="rotate(-48 198.6 228.9)" font-family='"Liberation Sans", sans-serif'>16</text><text x="211.2" y="228.9" font-size="5.3" stroke="#444" stroke-width="0.1" fill="#3c3c3c" text-anchor="middle" dominant-baseline="central" transform="rotate(-48 211.2 228.9)" font-family='"Liberation Sans", sans-serif'>32</text><text x="223.2" y="229.2" font-size="5.3" stroke="#444" stroke-width="0.1" fill="#3c3c3c" text-anchor="middle" dominant-baseline="central" transform="rotate(-48 223.2 229.2)" font-family='"Liberation Sans", sans-serif'>64</text><text x="234.3" y="229.8" font-size="5.3" stroke="#444" stroke-width="0.1" fill="#3c3c3c" text-anchor="middle" dominant-baseline="central" transform="rotate(-48 234.3 229.8)" font-family='"Liberation Sans", sans-serif'>125</text><text x="247.5" y="229.8" font-size="5.3" stroke="#444" stroke-width="0.1" fill="#3c3c3c" text-anchor="middle" dominant-baseline="central" transform="rotate(-48 247.5 229.8)" font-family='"Liberation Sans", sans-serif'>250</text><text x="262.7" y="229.8" font-size="5.3" stroke="#444" stroke-width="0.1" fill="#3c3c3c" text-anchor="middle" dominant-baseline="central" transform="rotate(-48 262.7 229.8)" font-family='"Liberation Sans", sans-serif'>500</text><text x="277.5" y="230.5" font-size="5.3" stroke="#444" stroke-width="0.1" fill="#3c3c3c" text-anchor="middle" dominant-baseline="central" transform="rotate(-48 277.5 230.5)" font-family='"Liberation Sans", sans-serif'>1000</text><text x="46.4" y="359.4" font-size="4.9" font-weight="bold" fill="#3c3c3c" text-anchor="middle" dominant-baseline="central" transform="rotate(-48 46.4 359.4)" font-family='"Liberation Sans", sans-serif'>16</text><text x="59.3" y="359.6" font-size="4.9" font-weight="bold" fill="#3c3c3c" text-anchor="middle" dominant-baseline="central" transform="rotate(-48 59.3 359.6)" font-family='"Liberation Sans", sans-serif'>32</text><text x="71.7" y="359.6" font-size="4.9" font-weight="bold" fill="#3c3c3c" text-anchor="middle" dominant-baseline="central" transform="rotate(-48 71.7 359.6)" font-family='"Liberation Sans", sans-serif'>64</text><text x="84.0" y="360.0" font-size="4.2" stroke="#444" stroke-width="0.1" fill="#777" text-anchor="middle" dominant-baseline="central" transform="rotate(-48 84.0 360.0)" font-family='"Liberation Sans", sans-serif'>125</text><text x="97.1" y="359.9" font-size="4.2" stroke="#444" stroke-width="0.1" fill="#777" text-anchor="middle" dominant-baseline="central" transform="rotate(-48 97.1 359.9)" font-family='"Liberation Sans", sans-serif'>250</text><text x="112.3" y="359.9" font-size="4.2" stroke="#444" stroke-width="0.1" fill="#777" text-anchor="middle" dominant-baseline="central" transform="rotate(-48 112.3 359.9)" font-family='"Liberation Sans", sans-serif'>500</text><text x="127.8" y="361.0" font-size="4.2" stroke="#444" stroke-width="0.1" fill="#777" text-anchor="middle" dominant-baseline="central" transform="rotate(-48 127.8 361.0)" font-family='"Liberation Sans", sans-serif'>1000</text><text x="202.0" y="359.4" font-size="4.9" font-weight="bold" fill="#3c3c3c" text-anchor="middle" dominant-baseline="central" transform="rotate(-48 202.0 359.4)" font-family='"Liberation Sans", sans-serif'>16</text><text x="215.2" y="359.4" font-size="4.9" font-weight="bold" fill="#3c3c3c" text-anchor="middle" dominant-baseline="central" transform="rotate(-48 215.2 359.4)" font-family='"Liberation Sans", sans-serif'>32</text><text x="228.0" y="359.6" font-size="4.9" font-weight="bold" fill="#3c3c3c" text-anchor="middle" dominant-baseline="central" transform="rotate(-48 228.0 359.6)" font-family='"Liberation Sans", sans-serif'>64</text><text x="241.0" y="360.5" font-size="4.2" stroke="#444" stroke-width="0.1" fill="#777" text-anchor="middle" dominant-baseline="central" transform="rotate(-48 241.0 360.5)" font-family='"Liberation Sans", sans-serif'>125</text><text x="253.0" y="360.5" font-size="4.2" stroke="#444" stroke-width="0.1" fill="#777" text-anchor="middle" dominant-baseline="central" transform="rotate(-48 253.0 360.5)" font-family='"Liberation Sans", sans-serif'>250</text><text x="268.5" y="360.5" font-size="4.2" stroke="#444" stroke-width="0.1" fill="#777" text-anchor="middle" dominant-baseline="central" transform="rotate(-48 268.5 360.5)" font-family='"Liberation Sans", sans-serif'>500</text><text x="280.2" y="360.5" font-size="4.2" stroke="#444" stroke-width="0.1" fill="#777" text-anchor="middle" dominant-baseline="central" transform="rotate(-48 280.2 360.5)" font-family='"Liberation Sans", sans-serif'>1000</text><path d="M335,25.7 L335,93.6 L536.5,93.6" fill="none" stroke="#d6d6d6" stroke-width="1"/><text x="329" y="96.2" font-size="7.4" fill="#595959" text-anchor="end" font-family='"Liberation Sans", sans-serif'>0</text><text x="329" y="82.6" font-size="7.4" fill="#595959" text-anchor="end" font-family='"Liberation Sans", sans-serif'>40</text><text x="329" y="69.0" font-size="7.4" fill="#595959" text-anchor="end" font-family='"Liberation Sans", sans-serif'>80</text><text x="329" y="55.5" font-size="7.4" fill="#595959" text-anchor="end" font-family='"Liberation Sans", sans-serif'>120</text><text x="329" y="41.9" font-size="7.4" fill="#595959" text-anchor="end" font-family='"Liberation Sans", sans-serif'>160</text><text x="329" y="28.3" font-size="7.4" fill="#595959" text-anchor="end" font-family='"Liberation Sans", sans-serif'>200</text><text x="335.0" y="105.8" font-size="7.4" fill="#595959" text-anchor="middle" font-family='"Liberation Sans", sans-serif'>0</text><text x="375.3" y="105.8" font-size="7.4" fill="#595959" text-anchor="middle" font-family='"Liberation Sans", sans-serif'>200</text><text x="415.6" y="105.8" font-size="7.4" fill="#595959" text-anchor="middle" font-family='"Liberation Sans", sans-serif'>400</text><text x="455.9" y="105.8" font-size="7.4" fill="#595959" text-anchor="middle" font-family='"Liberation Sans", sans-serif'>600</text><text x="496.2" y="105.8" font-size="7.4" fill="#595959" text-anchor="middle" font-family='"Liberation Sans", sans-serif'>800</text><text x="536.5" y="105.8" font-size="7.4" fill="#595959" text-anchor="middle" font-family='"Liberation Sans", sans-serif'>1000</text><text x="384.2" y="117.6" font-size="6.9" fill="#484848" textLength="103" lengthAdjust="spacingAndGlyphs" font-family='"Liberation Sans", sans-serif'>Antibody Concentration (ng/test)</text><text x="313.2" y="61.8" font-size="6.32" fill="#4a4a4a" text-anchor="middle" dominant-baseline="central" textLength="30" lengthAdjust="spacingAndGlyphs" transform="rotate(-90 313.2 61.8)" font-family='"Liberation Sans", sans-serif'>Stain Index</text><line x1="435.9" y1="45.8" x2="435.9" y2="85.5" stroke="#1e5e29" stroke-width="1.9" stroke-dasharray="6,5"/><path d="M338.2,76.6 L341.4,70.9 L347.9,64.1 L360.2,55.2 L385.4,43.4 L435.8,33.2 L536.5,69.2" fill="none" stroke="#7cc242" stroke-width="1.9" stroke-linejoin="round"/><circle cx="338.2" cy="76.6" r="2.75" fill="#7cc242"/><circle cx="341.4" cy="70.9" r="2.75" fill="#7cc242"/><circle cx="347.9" cy="64.1" r="2.75" fill="#7cc242"/><circle cx="360.2" cy="55.2" r="2.75" fill="#7cc242"/><circle cx="385.4" cy="43.4" r="2.75" fill="#7cc242"/><circle cx="435.8" cy="33.2" r="2.75" fill="#7cc242"/><circle cx="536.5" cy="69.2" r="2.75" fill="#7cc242"/><path d="M338.2,79.3 L341.4,74.9 L347.9,67.5 L360.2,58.6 L385.4,48.8 L435.8,39.6 L536.5,71.5" fill="none" stroke="#1b4b6b" stroke-width="1.9" stroke-linejoin="round"/><circle cx="338.2" cy="79.3" r="2.75" fill="#1b4b6b"/><circle cx="341.4" cy="74.9" r="2.75" fill="#1b4b6b"/><circle cx="347.9" cy="67.5" r="2.75" fill="#1b4b6b"/><circle cx="360.2" cy="58.6" r="2.75" fill="#1b4b6b"/><circle cx="385.4" cy="48.8" r="2.75" fill="#1b4b6b"/><circle cx="435.8" cy="39.6" r="2.75" fill="#1b4b6b"/><circle cx="536.5" cy="71.5" r="2.75" fill="#1b4b6b"/><line x1="460.7" y1="26.1" x2="482" y2="26.1" stroke="#7cc242" stroke-width="1.6"/><circle cx="471.35" cy="26.1" r="2.2" fill="#7cc242"/><text x="483.5" y="28.5" font-size="7.0" fill="#363636" textLength="53" lengthAdjust="spacingAndGlyphs" font-family='"Liberation Sans", sans-serif'>CD14 SB550 raw</text><line x1="460.7" y1="36.7" x2="482" y2="36.7" stroke="#1b4b6b" stroke-width="1.6"/><circle cx="471.35" cy="36.7" r="2.2" fill="#1b4b6b"/><text x="483.5" y="39.1" font-size="7.0" fill="#363636" textLength="60" lengthAdjust="spacingAndGlyphs" font-family='"Liberation Sans", sans-serif'>CD14 SB550 unmix</text><path d="M336.7,135.6 L336.7,210.8 L540.7,210.8" fill="none" stroke="#d6d6d6" stroke-width="1"/><text x="330.5" y="213.4" font-size="7.4" fill="#595959" text-anchor="end" font-family='"Liberation Sans", sans-serif'>0</text><text x="330.5" y="194.6" font-size="7.4" fill="#595959" text-anchor="end" font-family='"Liberation Sans", sans-serif'>40</text><text x="330.5" y="175.8" font-size="7.4" fill="#595959" text-anchor="end" font-family='"Liberation Sans", sans-serif'>80</text><text x="330.5" y="157.0" font-size="7.4" fill="#595959" text-anchor="end" font-family='"Liberation Sans", sans-serif'>120</text><text x="330.5" y="138.2" font-size="7.4" fill="#595959" text-anchor="end" font-family='"Liberation Sans", sans-serif'>160</text><text x="336.7" y="223.2" font-size="7.4" fill="#595959" text-anchor="middle" font-family='"Liberation Sans", sans-serif'>0</text><text x="377.5" y="223.2" font-size="7.4" fill="#595959" text-anchor="middle" font-family='"Liberation Sans", sans-serif'>200</text><text x="418.3" y="223.2" font-size="7.4" fill="#595959" text-anchor="middle" font-family='"Liberation Sans", sans-serif'>400</text><text x="459.1" y="223.2" font-size="7.4" fill="#595959" text-anchor="middle" font-family='"Liberation Sans", sans-serif'>600</text><text x="499.9" y="223.2" font-size="7.4" fill="#595959" text-anchor="middle" font-family='"Liberation Sans", sans-serif'>800</text><text x="540.7" y="223.2" font-size="7.4" fill="#595959" text-anchor="middle" font-family='"Liberation Sans", sans-serif'>1000</text><text x="386.5" y="235.2" font-size="6.9" fill="#484848" textLength="103" lengthAdjust="spacingAndGlyphs" font-family='"Liberation Sans", sans-serif'>Antibody Concentration (ng/test)</text><text x="311" y="174" font-size="7.37" fill="#4a4a4a" text-anchor="middle" dominant-baseline="central" textLength="35" lengthAdjust="spacingAndGlyphs" transform="rotate(-90 311 174)" font-family='"Liberation Sans", sans-serif'>Stain Index</text><line x1="437.7" y1="152.2" x2="437.7" y2="201.0" stroke="#1e5e29" stroke-width="1.9" stroke-dasharray="6,5"/><path d="M340.0,187.3 L343.2,183.5 L349.8,179.3 L362.2,172.7 L387.7,167.6 L438.7,159.1 L540.7,157.2" fill="none" stroke="#1f5a82" stroke-width="1.9" stroke-linejoin="round"/><circle cx="340.0" cy="187.3" r="2.75" fill="#1f5a82"/><circle cx="343.2" cy="183.5" r="2.75" fill="#1f5a82"/><circle cx="349.8" cy="179.3" r="2.75" fill="#1f5a82"/><circle cx="362.2" cy="172.7" r="2.75" fill="#1f5a82"/><circle cx="387.7" cy="167.6" r="2.75" fill="#1f5a82"/><circle cx="438.7" cy="159.1" r="2.75" fill="#1f5a82"/><circle cx="540.7" cy="157.2" r="2.75" fill="#1f5a82"/><path d="M340.0,185.9 L343.2,182.6 L349.8,177.9 L362.2,172.3 L387.7,166.2 L438.7,157.2 L540.7,163.8" fill="none" stroke="#7cc242" stroke-width="1.9" stroke-linejoin="round"/><rect x="337.2" y="183.1" width="5.6" height="5.6" fill="#7cc242"/><rect x="340.4" y="179.8" width="5.6" height="5.6" fill="#7cc242"/><rect x="347.0" y="175.1" width="5.6" height="5.6" fill="#7cc242"/><rect x="359.4" y="169.5" width="5.6" height="5.6" fill="#7cc242"/><rect x="384.9" y="163.3" width="5.6" height="5.6" fill="#7cc242"/><rect x="435.9" y="154.4" width="5.6" height="5.6" fill="#7cc242"/><rect x="537.9" y="161.0" width="5.6" height="5.6" fill="#7cc242"/><line x1="468" y1="135.6" x2="488.6" y2="135.6" stroke="#1f5a82" stroke-width="1.6"/><circle cx="478.3" cy="135.6" r="2.2" fill="#1f5a82"/><text x="490.1" y="138.0" font-size="7.0" fill="#363636" textLength="47.5" lengthAdjust="spacingAndGlyphs" font-family='"Liberation Sans", sans-serif'>CD57 FITC raw</text><line x1="468" y1="144.4" x2="488.6" y2="144.4" stroke="#7cc242" stroke-width="1.6"/><rect x="476.1" y="142.20000000000002" width="4.4" height="4.4" fill="#7cc242"/><text x="490.1" y="146.8" font-size="7.0" fill="#363636" textLength="56" lengthAdjust="spacingAndGlyphs" font-family='"Liberation Sans", sans-serif'>CD57 FITC  unmix</text><path d="M339.3,248.8 L339.3,330.2 L538.7,330.2" fill="none" stroke="#d6d6d6" stroke-width="1"/><text x="333" y="332.8" font-size="7.4" fill="#595959" text-anchor="end" font-family='"Liberation Sans", sans-serif'>0</text><text x="333" y="316.5" font-size="7.4" fill="#595959" text-anchor="end" font-family='"Liberation Sans", sans-serif'>100</text><text x="333" y="300.2" font-size="7.4" fill="#595959" text-anchor="end" font-family='"Liberation Sans", sans-serif'>200</text><text x="333" y="284.0" font-size="7.4" fill="#595959" text-anchor="end" font-family='"Liberation Sans", sans-serif'>300</text><text x="333" y="267.7" font-size="7.4" fill="#595959" text-anchor="end" font-family='"Liberation Sans", sans-serif'>400</text><text x="333" y="251.4" font-size="7.4" fill="#595959" text-anchor="end" font-family='"Liberation Sans", sans-serif'>500</text><text x="339.3" y="341.8" font-size="7.4" fill="#595959" text-anchor="middle" font-family='"Liberation Sans", sans-serif'>0</text><text x="379.2" y="341.8" font-size="7.4" fill="#595959" text-anchor="middle" font-family='"Liberation Sans", sans-serif'>200</text><text x="419.1" y="341.8" font-size="7.4" fill="#595959" text-anchor="middle" font-family='"Liberation Sans", sans-serif'>400</text><text x="458.9" y="341.8" font-size="7.4" fill="#595959" text-anchor="middle" font-family='"Liberation Sans", sans-serif'>600</text><text x="498.8" y="341.8" font-size="7.4" fill="#595959" text-anchor="middle" font-family='"Liberation Sans", sans-serif'>800</text><text x="538.7" y="341.8" font-size="7.4" fill="#595959" text-anchor="middle" font-family='"Liberation Sans", sans-serif'>1000</text><text x="387.0" y="353.8" font-size="6.9" fill="#484848" textLength="103" lengthAdjust="spacingAndGlyphs" font-family='"Liberation Sans", sans-serif'>Antibody Concentration (ng/test)</text><text x="313.7" y="289.8" font-size="7.09" fill="#4a4a4a" text-anchor="middle" dominant-baseline="central" textLength="33.7" lengthAdjust="spacingAndGlyphs" transform="rotate(-90 313.7 289.8)" font-family='"Liberation Sans", sans-serif'>Stain Index</text><line x1="538.9" y1="257.0" x2="538.9" y2="329.0" stroke="#1e5e29" stroke-width="1.9" stroke-dasharray="6,5"/><path d="M342.5,321.2 L345.7,317.2 L352.1,311.5 L364.2,300.1 L389.2,291.9 L439.0,273.2 L538.7,255.3" fill="none" stroke="#7cc242" stroke-width="1.9" stroke-linejoin="round"/><circle cx="342.5" cy="321.2" r="2.75" fill="#7cc242"/><circle cx="345.7" cy="317.2" r="2.75" fill="#7cc242"/><circle cx="352.1" cy="311.5" r="2.75" fill="#7cc242"/><circle cx="364.2" cy="300.1" r="2.75" fill="#7cc242"/><circle cx="389.2" cy="291.9" r="2.75" fill="#7cc242"/><circle cx="439.0" cy="273.2" r="2.75" fill="#7cc242"/><circle cx="538.7" cy="255.3" r="2.75" fill="#7cc242"/><path d="M342.5,321.2 L345.7,317.2 L352.1,309.8 L364.2,297.6 L389.2,289.5 L439.0,266.7 L538.7,254.5" fill="none" stroke="#1b4b6b" stroke-width="1.9" stroke-linejoin="round"/><circle cx="342.5" cy="321.2" r="2.75" fill="#1b4b6b"/><circle cx="345.7" cy="317.2" r="2.75" fill="#1b4b6b"/><circle cx="352.1" cy="309.8" r="2.75" fill="#1b4b6b"/><circle cx="364.2" cy="297.6" r="2.75" fill="#1b4b6b"/><circle cx="389.2" cy="289.5" r="2.75" fill="#1b4b6b"/><circle cx="439.0" cy="266.7" r="2.75" fill="#1b4b6b"/><circle cx="538.7" cy="254.5" r="2.75" fill="#1b4b6b"/><line x1="459" y1="311.3" x2="479" y2="311.3" stroke="#7cc242" stroke-width="1.6"/><circle cx="469.0" cy="311.3" r="2.2" fill="#7cc242"/><text x="480.5" y="313.7" font-size="7.0" fill="#363636" textLength="35.5" lengthAdjust="spacingAndGlyphs" font-family='"Liberation Sans", sans-serif'>HLADR raw</text><line x1="459" y1="319" x2="479" y2="319" stroke="#1b4b6b" stroke-width="1.6"/><circle cx="469.0" cy="319" r="2.2" fill="#1b4b6b"/><text x="480.5" y="321.4" font-size="7.0" fill="#363636" textLength="43.2" lengthAdjust="spacingAndGlyphs" font-family='"Liberation Sans", sans-serif'>HLADR unmix</text>
</svg>
</body></html>
